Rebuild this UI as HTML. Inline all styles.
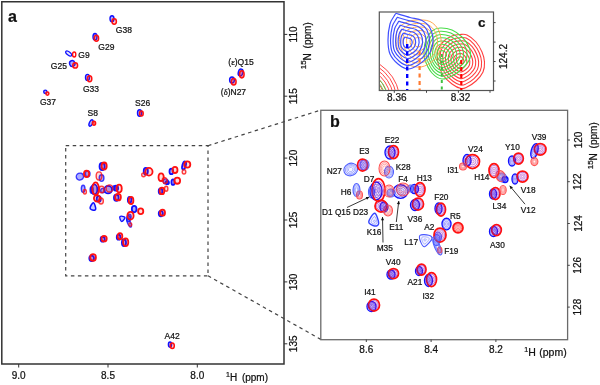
<!DOCTYPE html><html><head><meta charset="utf-8"><style>html,body{margin:0;padding:0;background:#fff;width:600px;height:385px;overflow:hidden}svg{display:block;will-change:transform}text{stroke:#111;stroke-width:0.22px;paint-order:stroke}</style></head><body>
<svg width="600" height="385" viewBox="0 0 600 385">
<rect width="600" height="385" fill="#fff"/>
<path d="M1.8 1.8 H284 V364 H1.8 Z" fill="none" stroke="#333" stroke-width="1.5"/>
<text x="8" y="22.2" font-size="16" font-family='"Liberation Sans", sans-serif' font-weight="bold" fill="#111" text-anchor="start">a</text>
<line x1="284" y1="34.4" x2="287.3" y2="34.4" stroke="#333" stroke-width="1"/>
<text x="297.4" y="34.4" font-size="10" font-family='"Liberation Sans", sans-serif' font-weight="normal" fill="#111" text-anchor="middle" transform="rotate(-90 297.4 34.4)">110</text>
<line x1="284" y1="96.2" x2="287.3" y2="96.2" stroke="#333" stroke-width="1"/>
<text x="297.4" y="96.2" font-size="10" font-family='"Liberation Sans", sans-serif' font-weight="normal" fill="#111" text-anchor="middle" transform="rotate(-90 297.4 96.2)">115</text>
<line x1="284" y1="158.1" x2="287.3" y2="158.1" stroke="#333" stroke-width="1"/>
<text x="297.4" y="158.1" font-size="10" font-family='"Liberation Sans", sans-serif' font-weight="normal" fill="#111" text-anchor="middle" transform="rotate(-90 297.4 158.1)">120</text>
<line x1="284" y1="220.0" x2="287.3" y2="220.0" stroke="#333" stroke-width="1"/>
<text x="297.4" y="220.0" font-size="10" font-family='"Liberation Sans", sans-serif' font-weight="normal" fill="#111" text-anchor="middle" transform="rotate(-90 297.4 220.0)">125</text>
<line x1="284" y1="281.9" x2="287.3" y2="281.9" stroke="#333" stroke-width="1"/>
<text x="297.4" y="281.9" font-size="10" font-family='"Liberation Sans", sans-serif' font-weight="normal" fill="#111" text-anchor="middle" transform="rotate(-90 297.4 281.9)">130</text>
<line x1="284" y1="343.8" x2="287.3" y2="343.8" stroke="#333" stroke-width="1"/>
<text x="297.4" y="343.8" font-size="10" font-family='"Liberation Sans", sans-serif' font-weight="normal" fill="#111" text-anchor="middle" transform="rotate(-90 297.4 343.8)">135</text>
<line x1="18.7" y1="364" x2="18.7" y2="367.5" stroke="#333" stroke-width="1"/>
<text x="18.7" y="378.8" font-size="10" font-family='"Liberation Sans", sans-serif' font-weight="normal" fill="#111" text-anchor="middle">9.0</text>
<line x1="108.0" y1="364" x2="108.0" y2="367.5" stroke="#333" stroke-width="1"/>
<text x="108.0" y="378.8" font-size="10" font-family='"Liberation Sans", sans-serif' font-weight="normal" fill="#111" text-anchor="middle">8.5</text>
<line x1="197.3" y1="364" x2="197.3" y2="367.5" stroke="#333" stroke-width="1"/>
<text x="197.3" y="378.8" font-size="10" font-family='"Liberation Sans", sans-serif' font-weight="normal" fill="#111" text-anchor="middle">8.0</text>
<text x="226" y="380.8" font-size="10" font-family='"Liberation Sans", sans-serif' fill="#111" word-spacing="2"><tspan font-size="7" dy="-4">1</tspan><tspan dy="4">H (ppm)</tspan></text>
<g transform="translate(310.6,69.3) rotate(-90)"><text x="0" y="0" font-size="10" font-family='"Liberation Sans", sans-serif' fill="#111" word-spacing="2"><tspan font-size="8" dy="-4.5">15</tspan><tspan dy="4.5">N (ppm)</tspan></text></g>
<text x="115.8" y="33.3" font-size="8.5" font-family='"Liberation Sans", sans-serif' font-weight="normal" fill="#111" text-anchor="start">G38</text>
<text x="98.3" y="50" font-size="8.5" font-family='"Liberation Sans", sans-serif' font-weight="normal" fill="#111" text-anchor="start">G29</text>
<text x="78.3" y="57.5" font-size="8.5" font-family='"Liberation Sans", sans-serif' font-weight="normal" fill="#111" text-anchor="start">G9</text>
<text x="50.8" y="69.2" font-size="8.5" font-family='"Liberation Sans", sans-serif' font-weight="normal" fill="#111" text-anchor="start">G25</text>
<text x="83" y="91.7" font-size="8.5" font-family='"Liberation Sans", sans-serif' font-weight="normal" fill="#111" text-anchor="start">G33</text>
<text x="40" y="105.3" font-size="8.5" font-family='"Liberation Sans", sans-serif' font-weight="normal" fill="#111" text-anchor="start">G37</text>
<text x="87.5" y="116.2" font-size="8.5" font-family='"Liberation Sans", sans-serif' font-weight="normal" fill="#111" text-anchor="start">S8</text>
<text x="135" y="105.8" font-size="8.5" font-family='"Liberation Sans", sans-serif' font-weight="normal" fill="#111" text-anchor="start">S26</text>
<text x="164.6" y="338.8" font-size="8.5" font-family='"Liberation Sans", sans-serif' font-weight="normal" fill="#111" text-anchor="start">A42</text>
<text x="228.3" y="65" font-size="8.5" font-family='"Liberation Sans", sans-serif' fill="#111">(<tspan font-family='"Liberation Serif", serif'>ε</tspan>)Q15</text>
<text x="220.8" y="95" font-size="8.5" font-family='"Liberation Sans", sans-serif' fill="#111">(<tspan font-family='"Liberation Serif", serif'>δ</tspan>)N27</text>
<ellipse cx="112" cy="18.7" rx="2.0" ry="3.0" fill="#1010ff" fill-opacity="0.35" stroke="#1010ff" stroke-width="1.4"/>
<ellipse cx="114.2" cy="21.5" rx="2.2" ry="2.7" fill="#ff1010" fill-opacity="0.2" stroke="#ff1010" stroke-width="1.5"/>
<ellipse cx="95" cy="36.7" rx="2.0" ry="3.2" fill="#1010ff" fill-opacity="0.35" stroke="#1010ff" stroke-width="1.4"/>
<ellipse cx="96.4" cy="38.3" rx="2.2" ry="3.0" fill="#ff1010" fill-opacity="0.2" stroke="#ff1010" stroke-width="1.5"/>
<ellipse cx="72.3" cy="63.5" rx="2.7" ry="2.9" fill="#1010ff" fill-opacity="0.35" stroke="#1010ff" stroke-width="1.4" transform="rotate(-20 72.3 63.5)"/>
<ellipse cx="75.2" cy="65.4" rx="2.4" ry="2.6" fill="#ff1010" fill-opacity="0.2" stroke="#ff1010" stroke-width="1.5"/>
<ellipse cx="87.5" cy="77.4" rx="2.0" ry="3.0" fill="#1010ff" fill-opacity="0.35" stroke="#1010ff" stroke-width="1.4"/>
<ellipse cx="89.6" cy="78.7" rx="2.2" ry="3.0" fill="#ff1010" fill-opacity="0.2" stroke="#ff1010" stroke-width="1.5"/>
<ellipse cx="45.3" cy="91.8" rx="1.6" ry="1.7" fill="#1010ff" fill-opacity="0.35" stroke="#1010ff" stroke-width="1.4"/>
<ellipse cx="47.4" cy="93.6" rx="1.5" ry="1.6" fill="#ff1010" fill-opacity="0.3" stroke="#ff1010" stroke-width="1.5"/>
<ellipse cx="91.0" cy="123.0" rx="1.6" ry="3.4" fill="#1010ff" fill-opacity="0.35" stroke="#1010ff" stroke-width="1.4" transform="rotate(25 91.0 123.0)"/>
<ellipse cx="94.0" cy="123.3" rx="1.6" ry="2.0" fill="#ff1010" fill-opacity="0.6" stroke="#ff1010" stroke-width="1.5"/>
<ellipse cx="139.6" cy="113.0" rx="2.1" ry="3.2" fill="#1010ff" fill-opacity="0.35" stroke="#1010ff" stroke-width="1.4"/>
<ellipse cx="141.4" cy="113.5" rx="1.8" ry="2.5" fill="#ff1010" fill-opacity="0.3" stroke="#ff1010" stroke-width="1.5"/>
<ellipse cx="240.6" cy="72.5" rx="2.3" ry="3.5" fill="#1010ff" fill-opacity="0.35" stroke="#1010ff" stroke-width="1.4" transform="rotate(15 240.6 72.5)"/>
<ellipse cx="241.8" cy="74.3" rx="2.3" ry="3.6" fill="#ff1010" fill-opacity="0.3" stroke="#ff1010" stroke-width="1.5"/>
<ellipse cx="232" cy="80" rx="2.4" ry="3.0" fill="#1010ff" fill-opacity="0.35" stroke="#1010ff" stroke-width="1.4"/>
<ellipse cx="233.7" cy="81.8" rx="2.4" ry="3.2" fill="#ff1010" fill-opacity="0.3" stroke="#ff1010" stroke-width="1.5"/>
<ellipse cx="170" cy="344.6" rx="1.6" ry="2.6" fill="#1010ff" fill-opacity="0.35" stroke="#1010ff" stroke-width="1.4"/>
<ellipse cx="172.3" cy="345.8" rx="2.0" ry="2.8" fill="#ff1010" fill-opacity="0.2" stroke="#ff1010" stroke-width="1.5"/>
<ellipse cx="68.7" cy="53.5" rx="1.7" ry="3.6" transform="rotate(-52 68.7 53.5)" fill="#1010ff" fill-opacity="0.1" stroke="#1010ff" stroke-width="1.2"/>
<ellipse cx="74.2" cy="54.5" rx="1.6" ry="2.5" fill="none" stroke="#ff1010" stroke-width="1.4"/>
<ellipse cx="102.14" cy="166.40" rx="2.60" ry="3.58" fill="#1010ff" fill-opacity="0.35" stroke="#1010ff" stroke-width="1.8" stroke-opacity="1"/>
<ellipse cx="87.68" cy="173.86" rx="2.34" ry="3.03" fill="#1010ff" fill-opacity="0.35" stroke="#1010ff" stroke-width="1.4" stroke-opacity="0.8"/>
<ellipse cx="79.86" cy="176.55" rx="3.64" ry="3.41" transform="rotate(-25 79.86 176.55)" fill="#1010ff" fill-opacity="0.35" stroke="#1010ff" stroke-width="1.4" stroke-opacity="0.8"/>
<ellipse cx="101.57" cy="178.04" rx="2.34" ry="3.30" fill="#1010ff" fill-opacity="0.35" stroke="#1010ff" stroke-width="1.4" stroke-opacity="0.8"/>
<ellipse cx="83.14" cy="188.79" rx="1.82" ry="3.58" fill="#1010ff" fill-opacity="0.35" stroke="#1010ff" stroke-width="1.4" stroke-opacity="0.8"/>
<ellipse cx="91.65" cy="189.98" rx="1.56" ry="3.30" fill="#1010ff" fill-opacity="0.35" stroke="#1010ff" stroke-width="1.4" stroke-opacity="0.8"/>
<ellipse cx="94.20" cy="189.38" rx="3.12" ry="4.95" fill="#1010ff" fill-opacity="0.35" stroke="#1010ff" stroke-width="1.8" stroke-opacity="1"/>
<ellipse cx="102.71" cy="190.58" rx="2.08" ry="2.20" fill="#1010ff" fill-opacity="0.35" stroke="#1010ff" stroke-width="1.4" stroke-opacity="0.8"/>
<ellipse cx="108.09" cy="189.68" rx="3.90" ry="3.74" fill="#1010ff" fill-opacity="0.35" stroke="#1010ff" stroke-width="1.8" stroke-opacity="1"/>
<ellipse cx="98.74" cy="198.94" rx="2.08" ry="2.75" fill="#1010ff" fill-opacity="0.35" stroke="#1010ff" stroke-width="1.8" stroke-opacity="1"/>
<ellipse cx="116.03" cy="188.19" rx="2.08" ry="2.48" fill="#1010ff" fill-opacity="0.35" stroke="#1010ff" stroke-width="1.8" stroke-opacity="1"/>
<ellipse cx="113.76" cy="187.89" rx="1.56" ry="1.93" fill="#1010ff" fill-opacity="0.35" stroke="#1010ff" stroke-width="1.4" stroke-opacity="0.8"/>
<ellipse cx="116.31" cy="197.74" rx="2.34" ry="3.03" fill="#1010ff" fill-opacity="0.35" stroke="#1010ff" stroke-width="1.8" stroke-opacity="1"/>
<ellipse cx="129.64" cy="199.83" rx="1.82" ry="3.03" fill="#1010ff" fill-opacity="0.35" stroke="#1010ff" stroke-width="1.8" stroke-opacity="1"/>
<ellipse cx="134.17" cy="209.09" rx="2.34" ry="3.19" fill="#1010ff" fill-opacity="0.35" stroke="#1010ff" stroke-width="1.8" stroke-opacity="1"/>
<ellipse cx="129.35" cy="216.85" rx="1.82" ry="2.75" fill="#1010ff" fill-opacity="0.35" stroke="#1010ff" stroke-width="1.4" stroke-opacity="0.8"/>
<ellipse cx="128.50" cy="218.64" rx="1.82" ry="3.03" fill="#1010ff" fill-opacity="0.35" stroke="#1010ff" stroke-width="1.4" stroke-opacity="0.8"/>
<ellipse cx="129.07" cy="222.82" rx="1.50" ry="4.68" transform="rotate(-24 129.07 222.82)" fill="#1010ff" fill-opacity="0.35" stroke="#1010ff" stroke-width="1.4" stroke-opacity="0.8"/>
<ellipse cx="160.82" cy="213.56" rx="2.08" ry="2.75" fill="#1010ff" fill-opacity="0.35" stroke="#1010ff" stroke-width="1.8" stroke-opacity="1"/>
<ellipse cx="145.80" cy="171.18" rx="2.08" ry="3.30" fill="#1010ff" fill-opacity="0.35" stroke="#1010ff" stroke-width="1.8" stroke-opacity="1"/>
<ellipse cx="165.64" cy="181.33" rx="2.34" ry="2.48" fill="#1010ff" fill-opacity="0.35" stroke="#1010ff" stroke-width="1.4" stroke-opacity="0.8"/>
<ellipse cx="167.34" cy="182.52" rx="1.56" ry="1.70" fill="#1010ff" fill-opacity="0.35" stroke="#1010ff" stroke-width="1.8" stroke-opacity="1"/>
<ellipse cx="160.54" cy="191.18" rx="1.82" ry="2.75" fill="#1010ff" fill-opacity="0.35" stroke="#1010ff" stroke-width="1.8" stroke-opacity="1"/>
<ellipse cx="171.31" cy="171.47" rx="1.82" ry="2.75" fill="#1010ff" fill-opacity="0.35" stroke="#1010ff" stroke-width="1.8" stroke-opacity="1"/>
<ellipse cx="173.01" cy="182.22" rx="1.56" ry="2.75" fill="#1010ff" fill-opacity="0.35" stroke="#1010ff" stroke-width="1.8" stroke-opacity="1"/>
<ellipse cx="184.07" cy="165.50" rx="1.72" ry="4.12" transform="rotate(15 184.07 165.50)" fill="#1010ff" fill-opacity="0.35" stroke="#1010ff" stroke-width="1.8" stroke-opacity="1"/>
<ellipse cx="102.71" cy="239.23" rx="2.08" ry="2.48" fill="#1010ff" fill-opacity="0.35" stroke="#1010ff" stroke-width="1.8" stroke-opacity="1"/>
<ellipse cx="118.58" cy="237.14" rx="1.82" ry="2.48" fill="#1010ff" fill-opacity="0.35" stroke="#1010ff" stroke-width="1.8" stroke-opacity="1"/>
<ellipse cx="123.97" cy="242.82" rx="2.08" ry="3.30" fill="#1010ff" fill-opacity="0.35" stroke="#1010ff" stroke-width="1.8" stroke-opacity="1"/>
<ellipse cx="91.65" cy="258.34" rx="2.34" ry="2.75" fill="#1010ff" fill-opacity="0.35" stroke="#1010ff" stroke-width="1.8" stroke-opacity="1"/>
<ellipse cx="104.12" cy="166.10" rx="2.60" ry="3.58" fill="#ff1010" fill-opacity="0.15" stroke="#ff1010" stroke-width="1.8" stroke-opacity="1"/>
<ellipse cx="86.55" cy="173.86" rx="2.60" ry="3.30" fill="#ff1010" fill-opacity="0.15" stroke="#ff1010" stroke-width="1.8" stroke-opacity="1"/>
<ellipse cx="99.02" cy="175.95" rx="2.86" ry="4.12" fill="#ff1010" fill-opacity="0.15" stroke="#ff1010" stroke-width="1.4" stroke-opacity="0.8"/>
<ellipse cx="84.85" cy="191.77" rx="1.56" ry="2.20" fill="#ff1010" fill-opacity="0.15" stroke="#ff1010" stroke-width="1.4" stroke-opacity="0.8"/>
<ellipse cx="95.62" cy="188.79" rx="3.38" ry="6.33" fill="#ff1010" fill-opacity="0.15" stroke="#ff1010" stroke-width="1.8" stroke-opacity="1"/>
<ellipse cx="101.57" cy="189.38" rx="2.60" ry="3.30" fill="#ff1010" fill-opacity="0.15" stroke="#ff1010" stroke-width="1.4" stroke-opacity="0.8"/>
<ellipse cx="109.51" cy="188.49" rx="3.38" ry="3.58" fill="#ff1010" fill-opacity="0.15" stroke="#ff1010" stroke-width="1.4" stroke-opacity="0.8"/>
<ellipse cx="97.04" cy="198.34" rx="3.12" ry="3.30" fill="#ff1010" fill-opacity="0.15" stroke="#ff1010" stroke-width="1.8" stroke-opacity="1"/>
<ellipse cx="101.00" cy="201.03" rx="2.34" ry="3.03" fill="#ff1010" fill-opacity="0.15" stroke="#ff1010" stroke-width="1.4" stroke-opacity="0.8"/>
<ellipse cx="119.15" cy="188.49" rx="2.60" ry="3.85" fill="#ff1010" fill-opacity="0.15" stroke="#ff1010" stroke-width="1.8" stroke-opacity="1"/>
<ellipse cx="118.02" cy="197.15" rx="2.86" ry="3.30" fill="#ff1010" fill-opacity="0.15" stroke="#ff1010" stroke-width="1.8" stroke-opacity="1"/>
<ellipse cx="131.06" cy="200.43" rx="2.34" ry="3.58" fill="#ff1010" fill-opacity="0.15" stroke="#ff1010" stroke-width="1.8" stroke-opacity="1"/>
<ellipse cx="140.69" cy="211.29" rx="2.60" ry="2.86" fill="#ff1010" fill-opacity="0.15" stroke="#ff1010" stroke-width="1.8" stroke-opacity="1"/>
<ellipse cx="130.49" cy="215.65" rx="3.12" ry="3.85" fill="#ff1010" fill-opacity="0.15" stroke="#ff1010" stroke-width="1.8" stroke-opacity="1"/>
<ellipse cx="130.32" cy="224.61" rx="1.50" ry="1.70" fill="#ff1010" fill-opacity="0.15" stroke="#ff1010" stroke-width="1.4" stroke-opacity="0.8"/>
<ellipse cx="162.52" cy="212.67" rx="2.50" ry="3.03" fill="#ff1010" fill-opacity="0.15" stroke="#ff1010" stroke-width="1.8" stroke-opacity="1"/>
<ellipse cx="148.92" cy="171.77" rx="3.64" ry="3.85" fill="#ff1010" fill-opacity="0.15" stroke="#ff1010" stroke-width="1.8" stroke-opacity="1"/>
<ellipse cx="143.53" cy="174.76" rx="1.82" ry="1.93" fill="#ff1010" fill-opacity="0.15" stroke="#ff1010" stroke-width="1.4" stroke-opacity="0.8"/>
<ellipse cx="161.11" cy="177.15" rx="2.60" ry="3.85" fill="#ff1010" fill-opacity="0.15" stroke="#ff1010" stroke-width="1.8" stroke-opacity="1"/>
<ellipse cx="164.79" cy="180.43" rx="2.34" ry="3.03" transform="rotate(-20 164.79 180.43)" fill="#ff1010" fill-opacity="0.15" stroke="#ff1010" stroke-width="1.4" stroke-opacity="0.8"/>
<ellipse cx="161.96" cy="190.88" rx="2.34" ry="3.30" fill="#ff1010" fill-opacity="0.15" stroke="#ff1010" stroke-width="1.8" stroke-opacity="1"/>
<ellipse cx="166.21" cy="188.79" rx="1.66" ry="2.48" fill="#ff1010" fill-opacity="0.15" stroke="#ff1010" stroke-width="1.4" stroke-opacity="0.8"/>
<ellipse cx="175.00" cy="169.98" rx="2.50" ry="3.03" fill="#ff1010" fill-opacity="0.15" stroke="#ff1010" stroke-width="1.8" stroke-opacity="1"/>
<ellipse cx="177.27" cy="180.73" rx="2.86" ry="3.03" fill="#ff1010" fill-opacity="0.15" stroke="#ff1010" stroke-width="1.8" stroke-opacity="1"/>
<ellipse cx="187.30" cy="164.49" rx="3.02" ry="3.19" fill="#ff1010" fill-opacity="0.15" stroke="#ff1010" stroke-width="1.8" stroke-opacity="1"/>
<ellipse cx="184.01" cy="171.83" rx="1.82" ry="2.20" fill="#ff1010" fill-opacity="0.15" stroke="#ff1010" stroke-width="1.4" stroke-opacity="0.8"/>
<ellipse cx="104.12" cy="238.64" rx="2.60" ry="2.75" fill="#ff1010" fill-opacity="0.15" stroke="#ff1010" stroke-width="1.8" stroke-opacity="1"/>
<ellipse cx="120.00" cy="236.25" rx="2.34" ry="3.03" fill="#ff1010" fill-opacity="0.15" stroke="#ff1010" stroke-width="1.8" stroke-opacity="1"/>
<ellipse cx="125.67" cy="242.22" rx="2.60" ry="3.85" fill="#ff1010" fill-opacity="0.15" stroke="#ff1010" stroke-width="1.8" stroke-opacity="1"/>
<ellipse cx="93.07" cy="257.44" rx="2.86" ry="3.30" fill="#ff1010" fill-opacity="0.15" stroke="#ff1010" stroke-width="1.8" stroke-opacity="1"/>
<path d="M93.46 202.70 C94.41 202.83 95.73 207.40 95.73 208.67 C95.73 209.93 94.41 210.41 93.46 210.28 C92.52 210.15 90.06 209.16 90.06 207.89 C90.06 206.63 92.52 202.57 93.46 202.70Z" fill="#1010ff" fill-opacity="0.2" stroke="#1010ff" stroke-width="1.5"/>
<path d="M119.98 216.55 C120.52 216.07 122.71 216.31 123.53 216.55 C124.35 216.79 125.15 217.20 124.88 218.01 C124.60 218.83 122.67 221.21 121.90 221.45 C121.13 221.69 120.58 220.25 120.26 219.43 C119.94 218.61 119.43 217.03 119.98 216.55Z" fill="#1010ff" fill-opacity="0.2" stroke="#1010ff" stroke-width="1.4"/>
<path d="M65.7 145.7 H208 V275.8 H65.7 Z" fill="none" stroke="#444" stroke-width="1.2" stroke-dasharray="3.5 3.5"/>
<line x1="208" y1="145.7" x2="321" y2="110" stroke="#444" stroke-width="1.2" stroke-dasharray="3.5 3.5"/>
<line x1="208" y1="275.8" x2="321" y2="339.5" stroke="#444" stroke-width="1.2" stroke-dasharray="3.5 3.5"/>
<rect x="320.8" y="110.3" width="246.8" height="229.4" fill="#fff" stroke="#6a6a6a" stroke-width="1.3"/>
<text x="330" y="126.8" font-size="16" font-family='"Liberation Sans", sans-serif' font-weight="bold" fill="#111" text-anchor="start">b</text>
<line x1="567.5" y1="140" x2="569.8" y2="140" stroke="#444" stroke-width="1"/>
<text x="581.5" y="140" font-size="10" font-family='"Liberation Sans", sans-serif' font-weight="normal" fill="#111" text-anchor="middle" transform="rotate(-90 581.5 140)">120</text>
<line x1="567.5" y1="181.7" x2="569.8" y2="181.7" stroke="#444" stroke-width="1"/>
<text x="581.5" y="181.7" font-size="10" font-family='"Liberation Sans", sans-serif' font-weight="normal" fill="#111" text-anchor="middle" transform="rotate(-90 581.5 181.7)">122</text>
<line x1="567.5" y1="223.5" x2="569.8" y2="223.5" stroke="#444" stroke-width="1"/>
<text x="581.5" y="223.5" font-size="10" font-family='"Liberation Sans", sans-serif' font-weight="normal" fill="#111" text-anchor="middle" transform="rotate(-90 581.5 223.5)">124</text>
<line x1="567.5" y1="265.3" x2="569.8" y2="265.3" stroke="#444" stroke-width="1"/>
<text x="581.5" y="265.3" font-size="10" font-family='"Liberation Sans", sans-serif' font-weight="normal" fill="#111" text-anchor="middle" transform="rotate(-90 581.5 265.3)">126</text>
<line x1="567.5" y1="307.1" x2="569.8" y2="307.1" stroke="#444" stroke-width="1"/>
<text x="581.5" y="307.1" font-size="10" font-family='"Liberation Sans", sans-serif' font-weight="normal" fill="#111" text-anchor="middle" transform="rotate(-90 581.5 307.1)">128</text>
<line x1="366.3" y1="339.5" x2="366.3" y2="342" stroke="#444" stroke-width="1"/>
<text x="366.3" y="352.5" font-size="10" font-family='"Liberation Sans", sans-serif' font-weight="normal" fill="#111" text-anchor="middle">8.6</text>
<line x1="431.1" y1="339.5" x2="431.1" y2="342" stroke="#444" stroke-width="1"/>
<text x="431.1" y="352.5" font-size="10" font-family='"Liberation Sans", sans-serif' font-weight="normal" fill="#111" text-anchor="middle">8.4</text>
<line x1="495.9" y1="339.5" x2="495.9" y2="342" stroke="#444" stroke-width="1"/>
<text x="495.9" y="352.5" font-size="10" font-family='"Liberation Sans", sans-serif' font-weight="normal" fill="#111" text-anchor="middle">8.2</text>
<text x="524.3" y="355.8" font-size="10.5" font-family='"Liberation Sans", sans-serif' fill="#111" word-spacing="0.5"><tspan font-size="7" dy="-4">1</tspan><tspan dy="4">H (ppm)</tspan></text>
<g transform="translate(597,169.3) rotate(-90)"><text x="0" y="0" font-size="10" font-family='"Liberation Sans", sans-serif' fill="#111" word-spacing="2"><tspan font-size="8" dy="-4.5">15</tspan><tspan dy="4.5">N (ppm)</tspan></text></g>
<ellipse cx="390" cy="152.5" rx="5" ry="6.5" fill="#1010ff" fill-opacity="0.06" stroke="#1010ff" stroke-width="1.35"/>
<ellipse cx="364.5" cy="165" rx="4.5" ry="5.5" fill="#1010ff" fill-opacity="0.04" stroke="#5060ff" stroke-width="1.1"/>
<ellipse cx="350.7" cy="169.5" rx="7" ry="6.2" fill="#1010ff" fill-opacity="0.04" stroke="#5060ff" stroke-width="1.1" transform="rotate(-25 350.7 169.5)"/>
<ellipse cx="389" cy="172" rx="4.5" ry="6" fill="#1010ff" fill-opacity="0.04" stroke="#5060ff" stroke-width="1.1"/>
<ellipse cx="356.5" cy="190" rx="3.5" ry="6.5" fill="#1010ff" fill-opacity="0.04" stroke="#5060ff" stroke-width="1.1"/>
<ellipse cx="371.5" cy="192" rx="3" ry="6" fill="#1010ff" fill-opacity="0.04" stroke="#5060ff" stroke-width="1.1"/>
<ellipse cx="376" cy="191" rx="6" ry="9" fill="#1010ff" fill-opacity="0.06" stroke="#1010ff" stroke-width="1.35"/>
<ellipse cx="391" cy="193" rx="4" ry="4" fill="#1010ff" fill-opacity="0.04" stroke="#5060ff" stroke-width="1.1"/>
<ellipse cx="400.5" cy="191.5" rx="7.5" ry="6.8" fill="#1010ff" fill-opacity="0.06" stroke="#1010ff" stroke-width="1.35"/>
<ellipse cx="384" cy="207" rx="4" ry="5" fill="#1010ff" fill-opacity="0.06" stroke="#1010ff" stroke-width="1.35"/>
<ellipse cx="414.5" cy="189" rx="4" ry="4.5" fill="#1010ff" fill-opacity="0.06" stroke="#1010ff" stroke-width="1.35"/>
<ellipse cx="410.5" cy="188.5" rx="3" ry="3.5" fill="#1010ff" fill-opacity="0.04" stroke="#5060ff" stroke-width="1.1"/>
<ellipse cx="415" cy="205" rx="4.5" ry="5.5" fill="#1010ff" fill-opacity="0.06" stroke="#1010ff" stroke-width="1.35"/>
<ellipse cx="438.5" cy="208.5" rx="3.5" ry="5.5" fill="#1010ff" fill-opacity="0.06" stroke="#1010ff" stroke-width="1.35"/>
<ellipse cx="446.5" cy="224" rx="4.5" ry="5.8" fill="#1010ff" fill-opacity="0.06" stroke="#1010ff" stroke-width="1.35"/>
<ellipse cx="438" cy="237" rx="3.5" ry="5" fill="#1010ff" fill-opacity="0.04" stroke="#5060ff" stroke-width="1.1"/>
<ellipse cx="436.5" cy="240" rx="3.5" ry="5.5" fill="#1010ff" fill-opacity="0.04" stroke="#5060ff" stroke-width="1.1"/>
<ellipse cx="437.5" cy="247" rx="2.8" ry="8.5" fill="#1010ff" fill-opacity="0.04" stroke="#5060ff" stroke-width="1.1" transform="rotate(-24 437.5 247)"/>
<ellipse cx="493.5" cy="231.5" rx="4" ry="5" fill="#1010ff" fill-opacity="0.06" stroke="#1010ff" stroke-width="1.35"/>
<ellipse cx="467" cy="160.5" rx="4" ry="6" fill="#1010ff" fill-opacity="0.06" stroke="#1010ff" stroke-width="1.35"/>
<ellipse cx="502" cy="177.5" rx="4.5" ry="4.5" fill="#1010ff" fill-opacity="0.04" stroke="#5060ff" stroke-width="1.1"/>
<ellipse cx="505" cy="179.5" rx="3" ry="3" fill="#1010ff" fill-opacity="0.06" stroke="#1010ff" stroke-width="1.35"/>
<ellipse cx="493" cy="194" rx="3.5" ry="5" fill="#1010ff" fill-opacity="0.06" stroke="#1010ff" stroke-width="1.35"/>
<ellipse cx="512" cy="161" rx="3.5" ry="5" fill="#1010ff" fill-opacity="0.06" stroke="#1010ff" stroke-width="1.35"/>
<ellipse cx="515" cy="179" rx="3" ry="5" fill="#1010ff" fill-opacity="0.06" stroke="#1010ff" stroke-width="1.35"/>
<ellipse cx="534.5" cy="151" rx="3.3" ry="7.5" fill="#1010ff" fill-opacity="0.06" stroke="#1010ff" stroke-width="1.35" transform="rotate(15 534.5 151)"/>
<ellipse cx="391" cy="274.5" rx="4" ry="4.5" fill="#1010ff" fill-opacity="0.06" stroke="#1010ff" stroke-width="1.35"/>
<ellipse cx="419" cy="271" rx="3.5" ry="4.5" fill="#1010ff" fill-opacity="0.06" stroke="#1010ff" stroke-width="1.35"/>
<ellipse cx="428.5" cy="280.5" rx="4" ry="6" fill="#1010ff" fill-opacity="0.06" stroke="#1010ff" stroke-width="1.35"/>
<ellipse cx="371.5" cy="306.5" rx="4.5" ry="5" fill="#1010ff" fill-opacity="0.06" stroke="#1010ff" stroke-width="1.35"/>
<ellipse cx="393.5" cy="152" rx="5" ry="6.5" fill="#ff1010" fill-opacity="0.06" stroke="#ff1010" stroke-width="1.75"/>
<ellipse cx="362.5" cy="165" rx="5" ry="6" fill="#ff1010" fill-opacity="0.06" stroke="#ff1010" stroke-width="1.75"/>
<ellipse cx="384.5" cy="168.5" rx="5.5" ry="7.5" fill="#ff1010" fill-opacity="0.04" stroke="#ff5050" stroke-width="1.1"/>
<ellipse cx="359.5" cy="195" rx="3" ry="4" fill="#ff1010" fill-opacity="0.04" stroke="#ff5050" stroke-width="1.1"/>
<ellipse cx="378.5" cy="190" rx="6.5" ry="11.5" fill="#ff1010" fill-opacity="0.06" stroke="#ff1010" stroke-width="1.75"/>
<ellipse cx="389" cy="191" rx="5" ry="6" fill="#ff1010" fill-opacity="0.04" stroke="#ff5050" stroke-width="1.1"/>
<ellipse cx="403" cy="189.5" rx="6.5" ry="6.5" fill="#ff1010" fill-opacity="0.04" stroke="#ff5050" stroke-width="1.1"/>
<ellipse cx="381" cy="206" rx="6" ry="6" fill="#ff1010" fill-opacity="0.06" stroke="#ff1010" stroke-width="1.75"/>
<ellipse cx="388" cy="210.5" rx="4.5" ry="5.5" fill="#ff1010" fill-opacity="0.04" stroke="#ff5050" stroke-width="1.1"/>
<ellipse cx="420" cy="189.5" rx="5" ry="7" fill="#ff1010" fill-opacity="0.06" stroke="#ff1010" stroke-width="1.75"/>
<ellipse cx="418" cy="204" rx="5.5" ry="6" fill="#ff1010" fill-opacity="0.06" stroke="#ff1010" stroke-width="1.75"/>
<ellipse cx="441" cy="209.5" rx="4.5" ry="6.5" fill="#ff1010" fill-opacity="0.06" stroke="#ff1010" stroke-width="1.75"/>
<ellipse cx="458" cy="227.7" rx="5" ry="5.2" fill="#ff1010" fill-opacity="0.06" stroke="#ff1010" stroke-width="1.75"/>
<ellipse cx="440" cy="235" rx="6" ry="7" fill="#ff1010" fill-opacity="0.06" stroke="#ff1010" stroke-width="1.75"/>
<ellipse cx="439.7" cy="250" rx="2.2" ry="3" fill="#ff1010" fill-opacity="0.04" stroke="#ff5050" stroke-width="1.1"/>
<ellipse cx="496.5" cy="230" rx="4.8" ry="5.5" fill="#ff1010" fill-opacity="0.06" stroke="#ff1010" stroke-width="1.75"/>
<ellipse cx="472.5" cy="161.5" rx="7" ry="7" fill="#ff1010" fill-opacity="0.06" stroke="#ff1010" stroke-width="1.75"/>
<ellipse cx="463" cy="166.5" rx="3.5" ry="3.5" fill="#ff1010" fill-opacity="0.04" stroke="#ff5050" stroke-width="1.1"/>
<ellipse cx="494" cy="170.5" rx="5" ry="7" fill="#ff1010" fill-opacity="0.06" stroke="#ff1010" stroke-width="1.75"/>
<ellipse cx="500.5" cy="176" rx="4.5" ry="5.5" fill="#ff1010" fill-opacity="0.04" stroke="#ff5050" stroke-width="1.1" transform="rotate(-20 500.5 176)"/>
<ellipse cx="495.5" cy="193.5" rx="4.5" ry="6" fill="#ff1010" fill-opacity="0.06" stroke="#ff1010" stroke-width="1.75"/>
<ellipse cx="503" cy="190" rx="3.2" ry="4.5" fill="#ff1010" fill-opacity="0.04" stroke="#ff5050" stroke-width="1.1"/>
<ellipse cx="518.5" cy="158.5" rx="4.8" ry="5.5" fill="#ff1010" fill-opacity="0.06" stroke="#ff1010" stroke-width="1.75"/>
<ellipse cx="522.5" cy="176.5" rx="5.5" ry="5.5" fill="#ff1010" fill-opacity="0.06" stroke="#ff1010" stroke-width="1.75"/>
<ellipse cx="540.2" cy="149.3" rx="5.8" ry="5.8" fill="#ff1010" fill-opacity="0.06" stroke="#ff1010" stroke-width="1.75"/>
<ellipse cx="534.4" cy="161.6" rx="3.5" ry="4" fill="#ff1010" fill-opacity="0.04" stroke="#ff5050" stroke-width="1.1"/>
<ellipse cx="393.5" cy="273.5" rx="5" ry="5" fill="#ff1010" fill-opacity="0.06" stroke="#ff1010" stroke-width="1.75"/>
<ellipse cx="421.5" cy="269.5" rx="4.5" ry="5.5" fill="#ff1010" fill-opacity="0.06" stroke="#ff1010" stroke-width="1.75"/>
<ellipse cx="431.5" cy="279.5" rx="5" ry="7" fill="#ff1010" fill-opacity="0.06" stroke="#ff1010" stroke-width="1.75"/>
<ellipse cx="374" cy="305" rx="5.5" ry="6" fill="#ff1010" fill-opacity="0.06" stroke="#ff1010" stroke-width="1.75"/>
<ellipse cx="393.5" cy="152" rx="3.70" ry="4.81" fill="none" stroke="#8a1ad0" stroke-width="0.8" stroke-opacity="0.7"/>
<ellipse cx="393.5" cy="152" rx="2.40" ry="3.12" fill="none" stroke="#8a1ad0" stroke-width="0.75" stroke-opacity="0.6"/>
<ellipse cx="393.5" cy="152" rx="1.10" ry="1.43" fill="none" stroke="#8a1ad0" stroke-width="0.75" stroke-opacity="0.55"/>
<ellipse cx="362.5" cy="165" rx="3.70" ry="4.44" fill="none" stroke="#8a1ad0" stroke-width="0.8" stroke-opacity="0.7"/>
<ellipse cx="362.5" cy="165" rx="2.40" ry="2.88" fill="none" stroke="#8a1ad0" stroke-width="0.75" stroke-opacity="0.6"/>
<ellipse cx="362.5" cy="165" rx="1.10" ry="1.32" fill="none" stroke="#8a1ad0" stroke-width="0.75" stroke-opacity="0.55"/>
<ellipse cx="384.5" cy="168.5" rx="4.29" ry="5.85" fill="none" stroke="#ff5050" stroke-width="0.75" stroke-opacity="0.7"/>
<ellipse cx="384.5" cy="168.5" rx="3.08" ry="4.20" fill="none" stroke="#ff5050" stroke-width="0.7" stroke-opacity="0.65"/>
<ellipse cx="384.5" cy="168.5" rx="1.87" ry="2.55" fill="none" stroke="#ff5050" stroke-width="0.7" stroke-opacity="0.55"/>
<ellipse cx="359.5" cy="195" rx="2.34" ry="3.12" fill="none" stroke="#ff5050" stroke-width="0.75" stroke-opacity="0.7"/>
<ellipse cx="359.5" cy="195" rx="1.68" ry="2.24" fill="none" stroke="#ff5050" stroke-width="0.7" stroke-opacity="0.65"/>
<ellipse cx="359.5" cy="195" rx="1.02" ry="1.36" fill="none" stroke="#ff5050" stroke-width="0.7" stroke-opacity="0.55"/>
<ellipse cx="378.5" cy="190" rx="4.81" ry="8.51" fill="none" stroke="#8a1ad0" stroke-width="0.8" stroke-opacity="0.7"/>
<ellipse cx="378.5" cy="190" rx="3.12" ry="5.52" fill="none" stroke="#8a1ad0" stroke-width="0.75" stroke-opacity="0.6"/>
<ellipse cx="378.5" cy="190" rx="1.43" ry="2.53" fill="none" stroke="#8a1ad0" stroke-width="0.75" stroke-opacity="0.55"/>
<ellipse cx="389" cy="191" rx="3.90" ry="4.68" fill="none" stroke="#ff5050" stroke-width="0.75" stroke-opacity="0.7"/>
<ellipse cx="389" cy="191" rx="2.80" ry="3.36" fill="none" stroke="#ff5050" stroke-width="0.7" stroke-opacity="0.65"/>
<ellipse cx="389" cy="191" rx="1.70" ry="2.04" fill="none" stroke="#ff5050" stroke-width="0.7" stroke-opacity="0.55"/>
<ellipse cx="403" cy="189.5" rx="5.07" ry="5.07" fill="none" stroke="#ff5050" stroke-width="0.75" stroke-opacity="0.7"/>
<ellipse cx="403" cy="189.5" rx="3.64" ry="3.64" fill="none" stroke="#ff5050" stroke-width="0.7" stroke-opacity="0.65"/>
<ellipse cx="403" cy="189.5" rx="2.21" ry="2.21" fill="none" stroke="#ff5050" stroke-width="0.7" stroke-opacity="0.55"/>
<ellipse cx="381" cy="206" rx="4.44" ry="4.44" fill="none" stroke="#8a1ad0" stroke-width="0.8" stroke-opacity="0.7"/>
<ellipse cx="381" cy="206" rx="2.88" ry="2.88" fill="none" stroke="#8a1ad0" stroke-width="0.75" stroke-opacity="0.6"/>
<ellipse cx="381" cy="206" rx="1.32" ry="1.32" fill="none" stroke="#8a1ad0" stroke-width="0.75" stroke-opacity="0.55"/>
<ellipse cx="388" cy="210.5" rx="3.51" ry="4.29" fill="none" stroke="#ff5050" stroke-width="0.75" stroke-opacity="0.7"/>
<ellipse cx="388" cy="210.5" rx="2.52" ry="3.08" fill="none" stroke="#ff5050" stroke-width="0.7" stroke-opacity="0.65"/>
<ellipse cx="388" cy="210.5" rx="1.53" ry="1.87" fill="none" stroke="#ff5050" stroke-width="0.7" stroke-opacity="0.55"/>
<ellipse cx="420" cy="189.5" rx="3.70" ry="5.18" fill="none" stroke="#8a1ad0" stroke-width="0.8" stroke-opacity="0.7"/>
<ellipse cx="420" cy="189.5" rx="2.40" ry="3.36" fill="none" stroke="#8a1ad0" stroke-width="0.75" stroke-opacity="0.6"/>
<ellipse cx="420" cy="189.5" rx="1.10" ry="1.54" fill="none" stroke="#8a1ad0" stroke-width="0.75" stroke-opacity="0.55"/>
<ellipse cx="418" cy="204" rx="4.07" ry="4.44" fill="none" stroke="#8a1ad0" stroke-width="0.8" stroke-opacity="0.7"/>
<ellipse cx="418" cy="204" rx="2.64" ry="2.88" fill="none" stroke="#8a1ad0" stroke-width="0.75" stroke-opacity="0.6"/>
<ellipse cx="418" cy="204" rx="1.21" ry="1.32" fill="none" stroke="#8a1ad0" stroke-width="0.75" stroke-opacity="0.55"/>
<ellipse cx="441" cy="209.5" rx="3.33" ry="4.81" fill="none" stroke="#8a1ad0" stroke-width="0.8" stroke-opacity="0.7"/>
<ellipse cx="441" cy="209.5" rx="2.16" ry="3.12" fill="none" stroke="#8a1ad0" stroke-width="0.75" stroke-opacity="0.6"/>
<ellipse cx="441" cy="209.5" rx="0.99" ry="1.43" fill="none" stroke="#8a1ad0" stroke-width="0.75" stroke-opacity="0.55"/>
<ellipse cx="458" cy="227.7" rx="3.70" ry="3.85" fill="none" stroke="#ff1010" stroke-width="0.8" stroke-opacity="0.75"/>
<ellipse cx="458" cy="227.7" rx="2.40" ry="2.50" fill="none" stroke="#ff1010" stroke-width="0.75" stroke-opacity="0.65"/>
<ellipse cx="458" cy="227.7" rx="1.10" ry="1.14" fill="none" stroke="#ff1010" stroke-width="0.75" stroke-opacity="0.6"/>
<ellipse cx="440" cy="235" rx="4.44" ry="5.18" fill="none" stroke="#8a1ad0" stroke-width="0.8" stroke-opacity="0.7"/>
<ellipse cx="440" cy="235" rx="2.88" ry="3.36" fill="none" stroke="#8a1ad0" stroke-width="0.75" stroke-opacity="0.6"/>
<ellipse cx="440" cy="235" rx="1.32" ry="1.54" fill="none" stroke="#8a1ad0" stroke-width="0.75" stroke-opacity="0.55"/>
<ellipse cx="439.7" cy="250" rx="1.72" ry="2.34" fill="none" stroke="#ff5050" stroke-width="0.75" stroke-opacity="0.7"/>
<ellipse cx="439.7" cy="250" rx="1.23" ry="1.68" fill="none" stroke="#ff5050" stroke-width="0.7" stroke-opacity="0.65"/>
<ellipse cx="439.7" cy="250" rx="0.75" ry="1.02" fill="none" stroke="#ff5050" stroke-width="0.7" stroke-opacity="0.55"/>
<ellipse cx="496.5" cy="230" rx="3.55" ry="4.07" fill="none" stroke="#8a1ad0" stroke-width="0.8" stroke-opacity="0.7"/>
<ellipse cx="496.5" cy="230" rx="2.30" ry="2.64" fill="none" stroke="#8a1ad0" stroke-width="0.75" stroke-opacity="0.6"/>
<ellipse cx="496.5" cy="230" rx="1.06" ry="1.21" fill="none" stroke="#8a1ad0" stroke-width="0.75" stroke-opacity="0.55"/>
<ellipse cx="472.5" cy="161.5" rx="5.18" ry="5.18" fill="none" stroke="#8a1ad0" stroke-width="0.8" stroke-opacity="0.7"/>
<ellipse cx="472.5" cy="161.5" rx="3.36" ry="3.36" fill="none" stroke="#8a1ad0" stroke-width="0.75" stroke-opacity="0.6"/>
<ellipse cx="472.5" cy="161.5" rx="1.54" ry="1.54" fill="none" stroke="#8a1ad0" stroke-width="0.75" stroke-opacity="0.55"/>
<ellipse cx="463" cy="166.5" rx="2.73" ry="2.73" fill="none" stroke="#ff5050" stroke-width="0.75" stroke-opacity="0.7"/>
<ellipse cx="463" cy="166.5" rx="1.96" ry="1.96" fill="none" stroke="#ff5050" stroke-width="0.7" stroke-opacity="0.65"/>
<ellipse cx="463" cy="166.5" rx="1.19" ry="1.19" fill="none" stroke="#ff5050" stroke-width="0.7" stroke-opacity="0.55"/>
<ellipse cx="494" cy="170.5" rx="3.70" ry="5.18" fill="none" stroke="#8a1ad0" stroke-width="0.8" stroke-opacity="0.7"/>
<ellipse cx="494" cy="170.5" rx="2.40" ry="3.36" fill="none" stroke="#8a1ad0" stroke-width="0.75" stroke-opacity="0.6"/>
<ellipse cx="494" cy="170.5" rx="1.10" ry="1.54" fill="none" stroke="#8a1ad0" stroke-width="0.75" stroke-opacity="0.55"/>
<ellipse cx="500.5" cy="176" rx="3.51" ry="4.29" fill="none" stroke="#ff5050" stroke-width="0.75" stroke-opacity="0.7" transform="rotate(-20 500.5 176)"/>
<ellipse cx="500.5" cy="176" rx="2.52" ry="3.08" fill="none" stroke="#ff5050" stroke-width="0.7" stroke-opacity="0.65" transform="rotate(-20 500.5 176)"/>
<ellipse cx="500.5" cy="176" rx="1.53" ry="1.87" fill="none" stroke="#ff5050" stroke-width="0.7" stroke-opacity="0.55" transform="rotate(-20 500.5 176)"/>
<ellipse cx="495.5" cy="193.5" rx="3.33" ry="4.44" fill="none" stroke="#8a1ad0" stroke-width="0.8" stroke-opacity="0.7"/>
<ellipse cx="495.5" cy="193.5" rx="2.16" ry="2.88" fill="none" stroke="#8a1ad0" stroke-width="0.75" stroke-opacity="0.6"/>
<ellipse cx="495.5" cy="193.5" rx="0.99" ry="1.32" fill="none" stroke="#8a1ad0" stroke-width="0.75" stroke-opacity="0.55"/>
<ellipse cx="503" cy="190" rx="2.50" ry="3.51" fill="none" stroke="#ff5050" stroke-width="0.75" stroke-opacity="0.7"/>
<ellipse cx="503" cy="190" rx="1.79" ry="2.52" fill="none" stroke="#ff5050" stroke-width="0.7" stroke-opacity="0.65"/>
<ellipse cx="503" cy="190" rx="1.09" ry="1.53" fill="none" stroke="#ff5050" stroke-width="0.7" stroke-opacity="0.55"/>
<ellipse cx="518.5" cy="158.5" rx="3.55" ry="4.07" fill="none" stroke="#8a1ad0" stroke-width="0.8" stroke-opacity="0.7"/>
<ellipse cx="518.5" cy="158.5" rx="2.30" ry="2.64" fill="none" stroke="#8a1ad0" stroke-width="0.75" stroke-opacity="0.6"/>
<ellipse cx="518.5" cy="158.5" rx="1.06" ry="1.21" fill="none" stroke="#8a1ad0" stroke-width="0.75" stroke-opacity="0.55"/>
<ellipse cx="522.5" cy="176.5" rx="4.07" ry="4.07" fill="none" stroke="#8a1ad0" stroke-width="0.8" stroke-opacity="0.7"/>
<ellipse cx="522.5" cy="176.5" rx="2.64" ry="2.64" fill="none" stroke="#8a1ad0" stroke-width="0.75" stroke-opacity="0.6"/>
<ellipse cx="522.5" cy="176.5" rx="1.21" ry="1.21" fill="none" stroke="#8a1ad0" stroke-width="0.75" stroke-opacity="0.55"/>
<ellipse cx="540.2" cy="149.3" rx="4.29" ry="4.29" fill="none" stroke="#8a1ad0" stroke-width="0.8" stroke-opacity="0.7"/>
<ellipse cx="540.2" cy="149.3" rx="2.78" ry="2.78" fill="none" stroke="#8a1ad0" stroke-width="0.75" stroke-opacity="0.6"/>
<ellipse cx="540.2" cy="149.3" rx="1.28" ry="1.28" fill="none" stroke="#8a1ad0" stroke-width="0.75" stroke-opacity="0.55"/>
<ellipse cx="534.4" cy="161.6" rx="2.73" ry="3.12" fill="none" stroke="#ff5050" stroke-width="0.75" stroke-opacity="0.7"/>
<ellipse cx="534.4" cy="161.6" rx="1.96" ry="2.24" fill="none" stroke="#ff5050" stroke-width="0.7" stroke-opacity="0.65"/>
<ellipse cx="534.4" cy="161.6" rx="1.19" ry="1.36" fill="none" stroke="#ff5050" stroke-width="0.7" stroke-opacity="0.55"/>
<ellipse cx="393.5" cy="273.5" rx="3.70" ry="3.70" fill="none" stroke="#8a1ad0" stroke-width="0.8" stroke-opacity="0.7"/>
<ellipse cx="393.5" cy="273.5" rx="2.40" ry="2.40" fill="none" stroke="#8a1ad0" stroke-width="0.75" stroke-opacity="0.6"/>
<ellipse cx="393.5" cy="273.5" rx="1.10" ry="1.10" fill="none" stroke="#8a1ad0" stroke-width="0.75" stroke-opacity="0.55"/>
<ellipse cx="421.5" cy="269.5" rx="3.33" ry="4.07" fill="none" stroke="#8a1ad0" stroke-width="0.8" stroke-opacity="0.7"/>
<ellipse cx="421.5" cy="269.5" rx="2.16" ry="2.64" fill="none" stroke="#8a1ad0" stroke-width="0.75" stroke-opacity="0.6"/>
<ellipse cx="421.5" cy="269.5" rx="0.99" ry="1.21" fill="none" stroke="#8a1ad0" stroke-width="0.75" stroke-opacity="0.55"/>
<ellipse cx="431.5" cy="279.5" rx="3.70" ry="5.18" fill="none" stroke="#8a1ad0" stroke-width="0.8" stroke-opacity="0.7"/>
<ellipse cx="431.5" cy="279.5" rx="2.40" ry="3.36" fill="none" stroke="#8a1ad0" stroke-width="0.75" stroke-opacity="0.6"/>
<ellipse cx="431.5" cy="279.5" rx="1.10" ry="1.54" fill="none" stroke="#8a1ad0" stroke-width="0.75" stroke-opacity="0.55"/>
<ellipse cx="374" cy="305" rx="4.07" ry="4.44" fill="none" stroke="#8a1ad0" stroke-width="0.8" stroke-opacity="0.7"/>
<ellipse cx="374" cy="305" rx="2.64" ry="2.88" fill="none" stroke="#8a1ad0" stroke-width="0.75" stroke-opacity="0.6"/>
<ellipse cx="374" cy="305" rx="1.21" ry="1.32" fill="none" stroke="#8a1ad0" stroke-width="0.75" stroke-opacity="0.55"/>
<ellipse cx="390" cy="152.5" rx="3.70" ry="4.81" fill="none" stroke="#1010ff" stroke-width="0.7" stroke-opacity="0.55"/>
<ellipse cx="390" cy="152.5" rx="2.40" ry="3.12" fill="none" stroke="#1010ff" stroke-width="0.65" stroke-opacity="0.5"/>
<ellipse cx="390" cy="152.5" rx="1.10" ry="1.43" fill="none" stroke="#1010ff" stroke-width="0.65" stroke-opacity="0.45"/>
<ellipse cx="364.5" cy="165" rx="3.51" ry="4.29" fill="none" stroke="#5060ff" stroke-width="0.75" stroke-opacity="0.7"/>
<ellipse cx="364.5" cy="165" rx="2.52" ry="3.08" fill="none" stroke="#5060ff" stroke-width="0.7" stroke-opacity="0.65"/>
<ellipse cx="364.5" cy="165" rx="1.53" ry="1.87" fill="none" stroke="#5060ff" stroke-width="0.7" stroke-opacity="0.55"/>
<ellipse cx="350.7" cy="169.5" rx="5.46" ry="4.84" fill="none" stroke="#5060ff" stroke-width="0.75" stroke-opacity="0.7" transform="rotate(-25 350.7 169.5)"/>
<ellipse cx="350.7" cy="169.5" rx="3.92" ry="3.47" fill="none" stroke="#5060ff" stroke-width="0.7" stroke-opacity="0.65" transform="rotate(-25 350.7 169.5)"/>
<ellipse cx="350.7" cy="169.5" rx="2.38" ry="2.11" fill="none" stroke="#5060ff" stroke-width="0.7" stroke-opacity="0.55" transform="rotate(-25 350.7 169.5)"/>
<ellipse cx="389" cy="172" rx="3.51" ry="4.68" fill="none" stroke="#5060ff" stroke-width="0.75" stroke-opacity="0.7"/>
<ellipse cx="389" cy="172" rx="2.52" ry="3.36" fill="none" stroke="#5060ff" stroke-width="0.7" stroke-opacity="0.65"/>
<ellipse cx="389" cy="172" rx="1.53" ry="2.04" fill="none" stroke="#5060ff" stroke-width="0.7" stroke-opacity="0.55"/>
<ellipse cx="356.5" cy="190" rx="2.73" ry="5.07" fill="none" stroke="#5060ff" stroke-width="0.75" stroke-opacity="0.7"/>
<ellipse cx="356.5" cy="190" rx="1.96" ry="3.64" fill="none" stroke="#5060ff" stroke-width="0.7" stroke-opacity="0.65"/>
<ellipse cx="356.5" cy="190" rx="1.19" ry="2.21" fill="none" stroke="#5060ff" stroke-width="0.7" stroke-opacity="0.55"/>
<ellipse cx="371.5" cy="192" rx="2.34" ry="4.68" fill="none" stroke="#5060ff" stroke-width="0.75" stroke-opacity="0.7"/>
<ellipse cx="371.5" cy="192" rx="1.68" ry="3.36" fill="none" stroke="#5060ff" stroke-width="0.7" stroke-opacity="0.65"/>
<ellipse cx="371.5" cy="192" rx="1.02" ry="2.04" fill="none" stroke="#5060ff" stroke-width="0.7" stroke-opacity="0.55"/>
<ellipse cx="376" cy="191" rx="4.44" ry="6.66" fill="none" stroke="#1010ff" stroke-width="0.7" stroke-opacity="0.55"/>
<ellipse cx="376" cy="191" rx="2.88" ry="4.32" fill="none" stroke="#1010ff" stroke-width="0.65" stroke-opacity="0.5"/>
<ellipse cx="376" cy="191" rx="1.32" ry="1.98" fill="none" stroke="#1010ff" stroke-width="0.65" stroke-opacity="0.45"/>
<ellipse cx="391" cy="193" rx="3.12" ry="3.12" fill="none" stroke="#5060ff" stroke-width="0.75" stroke-opacity="0.7"/>
<ellipse cx="391" cy="193" rx="2.24" ry="2.24" fill="none" stroke="#5060ff" stroke-width="0.7" stroke-opacity="0.65"/>
<ellipse cx="391" cy="193" rx="1.36" ry="1.36" fill="none" stroke="#5060ff" stroke-width="0.7" stroke-opacity="0.55"/>
<ellipse cx="400.5" cy="191.5" rx="5.55" ry="5.03" fill="none" stroke="#1010ff" stroke-width="0.7" stroke-opacity="0.55"/>
<ellipse cx="400.5" cy="191.5" rx="3.60" ry="3.26" fill="none" stroke="#1010ff" stroke-width="0.65" stroke-opacity="0.5"/>
<ellipse cx="400.5" cy="191.5" rx="1.65" ry="1.50" fill="none" stroke="#1010ff" stroke-width="0.65" stroke-opacity="0.45"/>
<ellipse cx="384" cy="207" rx="2.96" ry="3.70" fill="none" stroke="#1010ff" stroke-width="0.7" stroke-opacity="0.55"/>
<ellipse cx="384" cy="207" rx="1.92" ry="2.40" fill="none" stroke="#1010ff" stroke-width="0.65" stroke-opacity="0.5"/>
<ellipse cx="384" cy="207" rx="0.88" ry="1.10" fill="none" stroke="#1010ff" stroke-width="0.65" stroke-opacity="0.45"/>
<ellipse cx="414.5" cy="189" rx="2.96" ry="3.33" fill="none" stroke="#1010ff" stroke-width="0.7" stroke-opacity="0.55"/>
<ellipse cx="414.5" cy="189" rx="1.92" ry="2.16" fill="none" stroke="#1010ff" stroke-width="0.65" stroke-opacity="0.5"/>
<ellipse cx="414.5" cy="189" rx="0.88" ry="0.99" fill="none" stroke="#1010ff" stroke-width="0.65" stroke-opacity="0.45"/>
<ellipse cx="410.5" cy="188.5" rx="2.34" ry="2.73" fill="none" stroke="#5060ff" stroke-width="0.75" stroke-opacity="0.7"/>
<ellipse cx="410.5" cy="188.5" rx="1.68" ry="1.96" fill="none" stroke="#5060ff" stroke-width="0.7" stroke-opacity="0.65"/>
<ellipse cx="410.5" cy="188.5" rx="1.02" ry="1.19" fill="none" stroke="#5060ff" stroke-width="0.7" stroke-opacity="0.55"/>
<ellipse cx="415" cy="205" rx="3.33" ry="4.07" fill="none" stroke="#1010ff" stroke-width="0.7" stroke-opacity="0.55"/>
<ellipse cx="415" cy="205" rx="2.16" ry="2.64" fill="none" stroke="#1010ff" stroke-width="0.65" stroke-opacity="0.5"/>
<ellipse cx="415" cy="205" rx="0.99" ry="1.21" fill="none" stroke="#1010ff" stroke-width="0.65" stroke-opacity="0.45"/>
<ellipse cx="438.5" cy="208.5" rx="2.59" ry="4.07" fill="none" stroke="#1010ff" stroke-width="0.7" stroke-opacity="0.55"/>
<ellipse cx="438.5" cy="208.5" rx="1.68" ry="2.64" fill="none" stroke="#1010ff" stroke-width="0.65" stroke-opacity="0.5"/>
<ellipse cx="438.5" cy="208.5" rx="0.77" ry="1.21" fill="none" stroke="#1010ff" stroke-width="0.65" stroke-opacity="0.45"/>
<ellipse cx="446.5" cy="224" rx="3.33" ry="4.29" fill="none" stroke="#1010ff" stroke-width="0.7" stroke-opacity="0.55"/>
<ellipse cx="446.5" cy="224" rx="2.16" ry="2.78" fill="none" stroke="#1010ff" stroke-width="0.65" stroke-opacity="0.5"/>
<ellipse cx="446.5" cy="224" rx="0.99" ry="1.28" fill="none" stroke="#1010ff" stroke-width="0.65" stroke-opacity="0.45"/>
<ellipse cx="438" cy="237" rx="2.73" ry="3.90" fill="none" stroke="#5060ff" stroke-width="0.75" stroke-opacity="0.7"/>
<ellipse cx="438" cy="237" rx="1.96" ry="2.80" fill="none" stroke="#5060ff" stroke-width="0.7" stroke-opacity="0.65"/>
<ellipse cx="438" cy="237" rx="1.19" ry="1.70" fill="none" stroke="#5060ff" stroke-width="0.7" stroke-opacity="0.55"/>
<ellipse cx="436.5" cy="240" rx="2.73" ry="4.29" fill="none" stroke="#5060ff" stroke-width="0.75" stroke-opacity="0.7"/>
<ellipse cx="436.5" cy="240" rx="1.96" ry="3.08" fill="none" stroke="#5060ff" stroke-width="0.7" stroke-opacity="0.65"/>
<ellipse cx="436.5" cy="240" rx="1.19" ry="1.87" fill="none" stroke="#5060ff" stroke-width="0.7" stroke-opacity="0.55"/>
<ellipse cx="437.5" cy="247" rx="2.18" ry="6.63" fill="none" stroke="#5060ff" stroke-width="0.75" stroke-opacity="0.7" transform="rotate(-24 437.5 247)"/>
<ellipse cx="437.5" cy="247" rx="1.57" ry="4.76" fill="none" stroke="#5060ff" stroke-width="0.7" stroke-opacity="0.65" transform="rotate(-24 437.5 247)"/>
<ellipse cx="437.5" cy="247" rx="0.95" ry="2.89" fill="none" stroke="#5060ff" stroke-width="0.7" stroke-opacity="0.55" transform="rotate(-24 437.5 247)"/>
<ellipse cx="493.5" cy="231.5" rx="2.96" ry="3.70" fill="none" stroke="#1010ff" stroke-width="0.7" stroke-opacity="0.55"/>
<ellipse cx="493.5" cy="231.5" rx="1.92" ry="2.40" fill="none" stroke="#1010ff" stroke-width="0.65" stroke-opacity="0.5"/>
<ellipse cx="493.5" cy="231.5" rx="0.88" ry="1.10" fill="none" stroke="#1010ff" stroke-width="0.65" stroke-opacity="0.45"/>
<ellipse cx="467" cy="160.5" rx="2.96" ry="4.44" fill="none" stroke="#1010ff" stroke-width="0.7" stroke-opacity="0.55"/>
<ellipse cx="467" cy="160.5" rx="1.92" ry="2.88" fill="none" stroke="#1010ff" stroke-width="0.65" stroke-opacity="0.5"/>
<ellipse cx="467" cy="160.5" rx="0.88" ry="1.32" fill="none" stroke="#1010ff" stroke-width="0.65" stroke-opacity="0.45"/>
<ellipse cx="502" cy="177.5" rx="3.51" ry="3.51" fill="none" stroke="#5060ff" stroke-width="0.75" stroke-opacity="0.7"/>
<ellipse cx="502" cy="177.5" rx="2.52" ry="2.52" fill="none" stroke="#5060ff" stroke-width="0.7" stroke-opacity="0.65"/>
<ellipse cx="502" cy="177.5" rx="1.53" ry="1.53" fill="none" stroke="#5060ff" stroke-width="0.7" stroke-opacity="0.55"/>
<ellipse cx="505" cy="179.5" rx="2.22" ry="2.22" fill="none" stroke="#1010ff" stroke-width="0.7" stroke-opacity="0.55"/>
<ellipse cx="505" cy="179.5" rx="1.44" ry="1.44" fill="none" stroke="#1010ff" stroke-width="0.65" stroke-opacity="0.5"/>
<ellipse cx="505" cy="179.5" rx="0.66" ry="0.66" fill="none" stroke="#1010ff" stroke-width="0.65" stroke-opacity="0.45"/>
<ellipse cx="493" cy="194" rx="2.59" ry="3.70" fill="none" stroke="#1010ff" stroke-width="0.7" stroke-opacity="0.55"/>
<ellipse cx="493" cy="194" rx="1.68" ry="2.40" fill="none" stroke="#1010ff" stroke-width="0.65" stroke-opacity="0.5"/>
<ellipse cx="493" cy="194" rx="0.77" ry="1.10" fill="none" stroke="#1010ff" stroke-width="0.65" stroke-opacity="0.45"/>
<ellipse cx="512" cy="161" rx="2.59" ry="3.70" fill="none" stroke="#1010ff" stroke-width="0.7" stroke-opacity="0.55"/>
<ellipse cx="512" cy="161" rx="1.68" ry="2.40" fill="none" stroke="#1010ff" stroke-width="0.65" stroke-opacity="0.5"/>
<ellipse cx="512" cy="161" rx="0.77" ry="1.10" fill="none" stroke="#1010ff" stroke-width="0.65" stroke-opacity="0.45"/>
<ellipse cx="515" cy="179" rx="2.22" ry="3.70" fill="none" stroke="#1010ff" stroke-width="0.7" stroke-opacity="0.55"/>
<ellipse cx="515" cy="179" rx="1.44" ry="2.40" fill="none" stroke="#1010ff" stroke-width="0.65" stroke-opacity="0.5"/>
<ellipse cx="515" cy="179" rx="0.66" ry="1.10" fill="none" stroke="#1010ff" stroke-width="0.65" stroke-opacity="0.45"/>
<ellipse cx="534.5" cy="151" rx="2.44" ry="5.55" fill="none" stroke="#1010ff" stroke-width="0.7" stroke-opacity="0.55" transform="rotate(15 534.5 151)"/>
<ellipse cx="534.5" cy="151" rx="1.58" ry="3.60" fill="none" stroke="#1010ff" stroke-width="0.65" stroke-opacity="0.5" transform="rotate(15 534.5 151)"/>
<ellipse cx="534.5" cy="151" rx="0.73" ry="1.65" fill="none" stroke="#1010ff" stroke-width="0.65" stroke-opacity="0.45" transform="rotate(15 534.5 151)"/>
<ellipse cx="391" cy="274.5" rx="2.96" ry="3.33" fill="none" stroke="#1010ff" stroke-width="0.7" stroke-opacity="0.55"/>
<ellipse cx="391" cy="274.5" rx="1.92" ry="2.16" fill="none" stroke="#1010ff" stroke-width="0.65" stroke-opacity="0.5"/>
<ellipse cx="391" cy="274.5" rx="0.88" ry="0.99" fill="none" stroke="#1010ff" stroke-width="0.65" stroke-opacity="0.45"/>
<ellipse cx="419" cy="271" rx="2.59" ry="3.33" fill="none" stroke="#1010ff" stroke-width="0.7" stroke-opacity="0.55"/>
<ellipse cx="419" cy="271" rx="1.68" ry="2.16" fill="none" stroke="#1010ff" stroke-width="0.65" stroke-opacity="0.5"/>
<ellipse cx="419" cy="271" rx="0.77" ry="0.99" fill="none" stroke="#1010ff" stroke-width="0.65" stroke-opacity="0.45"/>
<ellipse cx="428.5" cy="280.5" rx="2.96" ry="4.44" fill="none" stroke="#1010ff" stroke-width="0.7" stroke-opacity="0.55"/>
<ellipse cx="428.5" cy="280.5" rx="1.92" ry="2.88" fill="none" stroke="#1010ff" stroke-width="0.65" stroke-opacity="0.5"/>
<ellipse cx="428.5" cy="280.5" rx="0.88" ry="1.32" fill="none" stroke="#1010ff" stroke-width="0.65" stroke-opacity="0.45"/>
<ellipse cx="371.5" cy="306.5" rx="3.33" ry="3.70" fill="none" stroke="#1010ff" stroke-width="0.7" stroke-opacity="0.55"/>
<ellipse cx="371.5" cy="306.5" rx="2.16" ry="2.40" fill="none" stroke="#1010ff" stroke-width="0.65" stroke-opacity="0.5"/>
<ellipse cx="371.5" cy="306.5" rx="0.99" ry="1.10" fill="none" stroke="#1010ff" stroke-width="0.65" stroke-opacity="0.45"/>
<path d="M374.70 213.30 C376.37 213.52 378.70 221.18 378.70 223.30 C378.70 225.42 376.37 226.22 374.70 226.00 C373.03 225.78 368.70 224.12 368.70 222.00 C368.70 219.88 373.03 213.08 374.70 213.30Z" fill="#3545ff" fill-opacity="0.06" stroke="#3545ff" stroke-width="1.4" stroke-opacity="1"/>
<path d="M374.62 216.58 C375.62 216.71 377.02 221.31 377.02 222.58 C377.02 223.85 375.62 224.33 374.62 224.20 C373.62 224.07 371.02 223.07 371.02 221.80 C371.02 220.53 373.62 216.45 374.62 216.58Z" fill="#3545ff" fill-opacity="0" stroke="#3545ff" stroke-width="0.65" stroke-opacity="0.6"/>
<path d="M374.54 219.86 C374.87 219.90 375.34 221.44 375.34 221.86 C375.34 222.28 374.87 222.44 374.54 222.40 C374.21 222.36 373.34 222.02 373.34 221.60 C373.34 221.18 374.21 219.82 374.54 219.86Z" fill="#3545ff" fill-opacity="0" stroke="#3545ff" stroke-width="0.65" stroke-opacity="0.6"/>
<path d="M420.00 235.30 C421.33 234.18 426.70 234.73 428.70 235.30 C430.70 235.87 432.67 236.80 432.00 238.70 C431.33 240.60 426.58 246.15 424.70 246.70 C422.82 247.25 421.48 243.90 420.70 242.00 C419.92 240.10 418.67 236.42 420.00 235.30Z" fill="#4a58ff" fill-opacity="0.06" stroke="#4a58ff" stroke-width="1.1" stroke-opacity="1"/>
<path d="M422.00 237.18 C422.80 236.51 426.02 236.84 427.22 237.18 C428.42 237.52 429.60 238.08 429.20 239.22 C428.80 240.36 425.95 243.69 424.82 244.02 C423.69 244.35 422.89 242.34 422.42 241.20 C421.95 240.06 421.20 237.85 422.00 237.18Z" fill="#4a58ff" fill-opacity="0" stroke="#4a58ff" stroke-width="0.65" stroke-opacity="0.6"/>
<path d="M424.00 239.06 C424.27 238.84 425.34 238.95 425.74 239.06 C426.14 239.17 426.53 239.36 426.40 239.74 C426.27 240.12 425.32 241.23 424.94 241.34 C424.56 241.45 424.30 240.78 424.14 240.40 C423.98 240.02 423.73 239.28 424.00 239.06Z" fill="#4a58ff" fill-opacity="0" stroke="#4a58ff" stroke-width="0.65" stroke-opacity="0.6"/>
<path d="M431 238 L436 236.5 M430.5 240.5 L436 239" stroke="#5a68ff" stroke-width="0.8" fill="none"/>
<text x="384.7" y="142.6" font-size="8.3" font-family='"Liberation Sans", sans-serif' font-weight="normal" fill="#111" text-anchor="start">E22</text>
<text x="359.2" y="154.3" font-size="8.3" font-family='"Liberation Sans", sans-serif' font-weight="normal" fill="#111" text-anchor="start">E3</text>
<text x="326.7" y="174.3" font-size="8.3" font-family='"Liberation Sans", sans-serif' font-weight="normal" fill="#111" text-anchor="start">N27</text>
<text x="395.8" y="169.8" font-size="8.3" font-family='"Liberation Sans", sans-serif' font-weight="normal" fill="#111" text-anchor="start">K28</text>
<text x="363.7" y="181.8" font-size="8.3" font-family='"Liberation Sans", sans-serif' font-weight="normal" fill="#111" text-anchor="start">D7</text>
<text x="340.8" y="195.2" font-size="8.3" font-family='"Liberation Sans", sans-serif' font-weight="normal" fill="#111" text-anchor="start">H6</text>
<text x="322" y="215.2" font-size="8.3" font-family='"Liberation Sans", sans-serif' font-weight="normal" fill="#111" text-anchor="start">D1 Q15 D23</text>
<text x="398.3" y="181.8" font-size="8.3" font-family='"Liberation Sans", sans-serif' font-weight="normal" fill="#111" text-anchor="start">F4</text>
<text x="389.2" y="230.4" font-size="8.3" font-family='"Liberation Sans", sans-serif' font-weight="normal" fill="#111" text-anchor="start">E11</text>
<text x="407.5" y="221.8" font-size="8.3" font-family='"Liberation Sans", sans-serif' font-weight="normal" fill="#111" text-anchor="start">V36</text>
<text x="416.7" y="181" font-size="8.3" font-family='"Liberation Sans", sans-serif' font-weight="normal" fill="#111" text-anchor="start">H13</text>
<text x="447.2" y="173" font-size="8.3" font-family='"Liberation Sans", sans-serif' font-weight="normal" fill="#111" text-anchor="start">I31</text>
<text x="468" y="151.8" font-size="8.3" font-family='"Liberation Sans", sans-serif' font-weight="normal" fill="#111" text-anchor="start">V24</text>
<text x="474.2" y="180.2" font-size="8.3" font-family='"Liberation Sans", sans-serif' font-weight="normal" fill="#111" text-anchor="start">H14</text>
<text x="505" y="149.8" font-size="8.3" font-family='"Liberation Sans", sans-serif' font-weight="normal" fill="#111" text-anchor="start">Y10</text>
<text x="531.7" y="140.4" font-size="8.3" font-family='"Liberation Sans", sans-serif' font-weight="normal" fill="#111" text-anchor="start">V39</text>
<text x="520.8" y="192.6" font-size="8.3" font-family='"Liberation Sans", sans-serif' font-weight="normal" fill="#111" text-anchor="start">V18</text>
<text x="492.5" y="209.3" font-size="8.3" font-family='"Liberation Sans", sans-serif' font-weight="normal" fill="#111" text-anchor="start">L34</text>
<text x="520.8" y="212.6" font-size="8.3" font-family='"Liberation Sans", sans-serif' font-weight="normal" fill="#111" text-anchor="start">V12</text>
<text x="434.2" y="200.2" font-size="8.3" font-family='"Liberation Sans", sans-serif' font-weight="normal" fill="#111" text-anchor="start">F20</text>
<text x="450" y="219.3" font-size="8.3" font-family='"Liberation Sans", sans-serif' font-weight="normal" fill="#111" text-anchor="start">R5</text>
<text x="424.2" y="229.8" font-size="8.3" font-family='"Liberation Sans", sans-serif' font-weight="normal" fill="#111" text-anchor="start">A2</text>
<text x="404.2" y="245.1" font-size="8.3" font-family='"Liberation Sans", sans-serif' font-weight="normal" fill="#111" text-anchor="start">L17</text>
<text x="444.2" y="254.3" font-size="8.3" font-family='"Liberation Sans", sans-serif' font-weight="normal" fill="#111" text-anchor="start">F19</text>
<text x="490" y="248.1" font-size="8.3" font-family='"Liberation Sans", sans-serif' font-weight="normal" fill="#111" text-anchor="start">A30</text>
<text x="366.7" y="235.1" font-size="8.3" font-family='"Liberation Sans", sans-serif' font-weight="normal" fill="#111" text-anchor="start">K16</text>
<text x="376.7" y="250.9" font-size="8.3" font-family='"Liberation Sans", sans-serif' font-weight="normal" fill="#111" text-anchor="start">M35</text>
<text x="385.8" y="265.1" font-size="8.3" font-family='"Liberation Sans", sans-serif' font-weight="normal" fill="#111" text-anchor="start">V40</text>
<text x="407.5" y="285.1" font-size="8.3" font-family='"Liberation Sans", sans-serif' font-weight="normal" fill="#111" text-anchor="start">A21</text>
<text x="422.5" y="298.8" font-size="8.3" font-family='"Liberation Sans", sans-serif' font-weight="normal" fill="#111" text-anchor="start">I32</text>
<text x="364.2" y="295.4" font-size="8.3" font-family='"Liberation Sans", sans-serif' font-weight="normal" fill="#111" text-anchor="start">I41</text>
<line x1="347" y1="207.5" x2="369.3" y2="197" stroke="#222" stroke-width="0.9"/>
<path d="M369.30 197.00 L367.09 199.81 L365.72 196.92 Z" fill="#111"/>
<line x1="396.3" y1="222" x2="398.8" y2="201" stroke="#222" stroke-width="0.9"/>
<path d="M398.80 201.00 L400.01 204.37 L396.83 203.99 Z" fill="#111"/>
<line x1="383" y1="242.5" x2="382.5" y2="217" stroke="#222" stroke-width="0.9"/>
<path d="M382.50 217.00 L384.16 220.17 L380.96 220.23 Z" fill="#111"/>
<line x1="525" y1="204.2" x2="509.7" y2="185.8" stroke="#222" stroke-width="0.9"/>
<path d="M509.70 185.80 L512.98 187.24 L510.52 189.28 Z" fill="#111"/>
<rect x="379.3" y="12" width="114.2" height="78.5" fill="#fff" stroke="#555" stroke-width="1.2"/>
<clipPath id="cc"><rect x="379.9" y="12.6" width="113" height="77.3"/></clipPath>
<g clip-path="url(#cc)">
<circle cx="355" cy="102" r="30.0" fill="none" stroke="#ff4848" stroke-width="1.0"/>
<circle cx="355" cy="102" r="33.0" fill="none" stroke="#ff4848" stroke-width="1.0"/>
<circle cx="355" cy="102" r="36.0" fill="none" stroke="#ff4848" stroke-width="1.0"/>
<circle cx="355" cy="102" r="39.0" fill="none" stroke="#ff4848" stroke-width="1.0"/>
<circle cx="355" cy="102" r="42.0" fill="none" stroke="#ff4848" stroke-width="1.0"/>
<circle cx="355" cy="102" r="45.0" fill="none" stroke="#ff4848" stroke-width="1.0"/>
<circle cx="362" cy="98" r="20.0" fill="none" stroke="#50dc50" stroke-width="0.9"/>
<circle cx="362" cy="98" r="22.6" fill="none" stroke="#50dc50" stroke-width="0.9"/>
<circle cx="362" cy="98" r="25.2" fill="none" stroke="#50dc50" stroke-width="0.9"/>
<path d="M438.00 50.00 C439.00 46.33 441.67 43.33 444.00 41.00 C446.33 38.67 449.33 37.08 452.00 36.00 C454.67 34.92 457.50 34.67 460.00 34.50 C462.50 34.33 464.33 33.75 467.00 35.00 C469.67 36.25 473.50 39.17 476.00 42.00 C478.50 44.83 480.58 48.67 482.00 52.00 C483.42 55.33 484.33 58.67 484.50 62.00 C484.67 65.33 484.42 68.83 483.00 72.00 C481.58 75.17 478.67 78.50 476.00 81.00 C473.33 83.50 469.50 85.75 467.00 87.00 C464.50 88.25 463.50 89.00 461.00 88.50 C458.50 88.00 455.00 86.25 452.00 84.00 C449.00 81.75 445.33 78.50 443.00 75.00 C440.67 71.50 438.83 67.17 438.00 63.00 C437.17 58.83 437.00 53.67 438.00 50.00Z" fill="none" stroke="#ff4040" stroke-width="1.1"/>
<path d="M440.64 51.32 C441.52 48.09 443.87 45.45 445.92 43.40 C447.97 41.35 450.61 39.95 452.96 39.00 C455.31 38.05 457.80 37.83 460.00 37.68 C462.20 37.53 463.81 37.02 466.16 38.12 C468.51 39.22 471.88 41.79 474.08 44.28 C476.28 46.77 478.11 50.15 479.36 53.08 C480.61 56.01 481.41 58.95 481.56 61.88 C481.71 64.81 481.49 67.89 480.24 70.68 C478.99 73.47 476.43 76.40 474.08 78.60 C471.73 80.80 468.36 82.78 466.16 83.88 C463.96 84.98 463.08 85.64 460.88 85.20 C458.68 84.76 455.60 83.22 452.96 81.24 C450.32 79.26 447.09 76.40 445.04 73.32 C442.99 70.24 441.37 66.43 440.64 62.76 C439.91 59.09 439.76 54.55 440.64 51.32Z" fill="none" stroke="#ff4040" stroke-width="1.1"/>
<path d="M443.28 52.64 C444.04 49.85 446.07 47.57 447.84 45.80 C449.61 44.03 451.89 42.82 453.92 42.00 C455.95 41.18 458.10 40.99 460.00 40.86 C461.90 40.73 463.29 40.29 465.32 41.24 C467.35 42.19 470.26 44.41 472.16 46.56 C474.06 48.71 475.64 51.63 476.72 54.16 C477.80 56.69 478.49 59.23 478.62 61.76 C478.75 64.29 478.56 66.95 477.48 69.36 C476.40 71.77 474.19 74.30 472.16 76.20 C470.13 78.10 467.22 79.81 465.32 80.76 C463.42 81.71 462.66 82.28 460.76 81.90 C458.86 81.52 456.20 80.19 453.92 78.48 C451.64 76.77 448.85 74.30 447.08 71.64 C445.31 68.98 443.91 65.69 443.28 62.52 C442.65 59.35 442.52 55.43 443.28 52.64Z" fill="none" stroke="#ff4040" stroke-width="1.1"/>
<path d="M445.92 53.96 C446.56 51.61 448.27 49.69 449.76 48.20 C451.25 46.71 453.17 45.69 454.88 45.00 C456.59 44.31 458.40 44.15 460.00 44.04 C461.60 43.93 462.77 43.56 464.48 44.36 C466.19 45.16 468.64 47.03 470.24 48.84 C471.84 50.65 473.17 53.11 474.08 55.24 C474.99 57.37 475.57 59.51 475.68 61.64 C475.79 63.77 475.63 66.01 474.72 68.04 C473.81 70.07 471.95 72.20 470.24 73.80 C468.53 75.40 466.08 76.84 464.48 77.64 C462.88 78.44 462.24 78.92 460.64 78.60 C459.04 78.28 456.80 77.16 454.88 75.72 C452.96 74.28 450.61 72.20 449.12 69.96 C447.63 67.72 446.45 64.95 445.92 62.28 C445.39 59.61 445.28 56.31 445.92 53.96Z" fill="none" stroke="#ff4040" stroke-width="1.1"/>
<path d="M448.56 55.28 C449.08 53.37 450.47 51.81 451.68 50.60 C452.89 49.39 454.45 48.56 455.84 48.00 C457.23 47.44 458.70 47.31 460.00 47.22 C461.30 47.13 462.25 46.83 463.64 47.48 C465.03 48.13 467.02 49.65 468.32 51.12 C469.62 52.59 470.70 54.59 471.44 56.32 C472.18 58.05 472.65 59.79 472.74 61.52 C472.83 63.25 472.70 65.07 471.96 66.72 C471.22 68.37 469.71 70.10 468.32 71.40 C466.93 72.70 464.94 73.87 463.64 74.52 C462.34 75.17 461.82 75.56 460.52 75.30 C459.22 75.04 457.40 74.13 455.84 72.96 C454.28 71.79 452.37 70.10 451.16 68.28 C449.95 66.46 448.99 64.21 448.56 62.04 C448.13 59.87 448.04 57.19 448.56 55.28Z" fill="none" stroke="#ff4040" stroke-width="1.1"/>
<path d="M451.20 56.60 C451.60 55.13 452.67 53.93 453.60 53.00 C454.53 52.07 455.73 51.43 456.80 51.00 C457.87 50.57 459.00 50.47 460.00 50.40 C461.00 50.33 461.73 50.10 462.80 50.60 C463.87 51.10 465.40 52.27 466.40 53.40 C467.40 54.53 468.23 56.07 468.80 57.40 C469.37 58.73 469.73 60.07 469.80 61.40 C469.87 62.73 469.77 64.13 469.20 65.40 C468.63 66.67 467.47 68.00 466.40 69.00 C465.33 70.00 463.80 70.90 462.80 71.40 C461.80 71.90 461.40 72.20 460.40 72.00 C459.40 71.80 458.00 71.10 456.80 70.20 C455.60 69.30 454.13 68.00 453.20 66.60 C452.27 65.20 451.53 63.47 451.20 61.80 C450.87 60.13 450.80 58.07 451.20 56.60Z" fill="none" stroke="#ff4040" stroke-width="1.1"/>
<path d="M453.84 57.92 C454.12 56.89 454.87 56.05 455.52 55.40 C456.17 54.75 457.01 54.30 457.76 54.00 C458.51 53.70 459.30 53.63 460.00 53.58 C460.70 53.53 461.21 53.37 461.96 53.72 C462.71 54.07 463.78 54.89 464.48 55.68 C465.18 56.47 465.76 57.55 466.16 58.48 C466.56 59.41 466.81 60.35 466.86 61.28 C466.91 62.21 466.84 63.19 466.44 64.08 C466.04 64.97 465.23 65.90 464.48 66.60 C463.73 67.30 462.66 67.93 461.96 68.28 C461.26 68.63 460.98 68.84 460.28 68.70 C459.58 68.56 458.60 68.07 457.76 67.44 C456.92 66.81 455.89 65.90 455.24 64.92 C454.59 63.94 454.07 62.73 453.84 61.56 C453.61 60.39 453.56 58.95 453.84 57.92Z" fill="none" stroke="#ff4040" stroke-width="1.1"/>
<path d="M456.48 59.24 C456.64 58.65 457.07 58.17 457.44 57.80 C457.81 57.43 458.29 57.17 458.72 57.00 C459.15 56.83 459.60 56.79 460.00 56.76 C460.40 56.73 460.69 56.64 461.12 56.84 C461.55 57.04 462.16 57.51 462.56 57.96 C462.96 58.41 463.29 59.03 463.52 59.56 C463.75 60.09 463.89 60.63 463.92 61.16 C463.95 61.69 463.91 62.25 463.68 62.76 C463.45 63.27 462.99 63.80 462.56 64.20 C462.13 64.60 461.52 64.96 461.12 65.16 C460.72 65.36 460.56 65.48 460.16 65.40 C459.76 65.32 459.20 65.04 458.72 64.68 C458.24 64.32 457.65 63.80 457.28 63.24 C456.91 62.68 456.61 61.99 456.48 61.32 C456.35 60.65 456.32 59.83 456.48 59.24Z" fill="none" stroke="#ff4040" stroke-width="1.1"/>
<path d="M426.00 40.00 C427.33 36.83 429.67 33.00 432.00 31.00 C434.33 29.00 436.67 28.17 440.00 28.00 C443.33 27.83 448.33 28.50 452.00 30.00 C455.67 31.50 459.17 34.17 462.00 37.00 C464.83 39.83 467.67 43.50 469.00 47.00 C470.33 50.50 471.00 54.50 470.00 58.00 C469.00 61.50 466.00 65.00 463.00 68.00 C460.00 71.00 455.50 74.17 452.00 76.00 C448.50 77.83 445.33 79.50 442.00 79.00 C438.67 78.50 434.83 76.17 432.00 73.00 C429.17 69.83 426.33 63.83 425.00 60.00 C423.67 56.17 423.83 53.33 424.00 50.00 C424.17 46.67 424.67 43.17 426.00 40.00Z" fill="none" stroke="#48dc48" stroke-width="1.1"/>
<path d="M427.92 41.80 C429.09 39.01 431.15 35.64 433.20 33.88 C435.25 32.12 437.31 31.39 440.24 31.24 C443.17 31.09 447.57 31.68 450.80 33.00 C454.03 34.32 457.11 36.67 459.60 39.16 C462.09 41.65 464.59 44.88 465.76 47.96 C466.93 51.04 467.52 54.56 466.64 57.64 C465.76 60.72 463.12 63.80 460.48 66.44 C457.84 69.08 453.88 71.87 450.80 73.48 C447.72 75.09 444.93 76.56 442.00 76.12 C439.07 75.68 435.69 73.63 433.20 70.84 C430.71 68.05 428.21 62.77 427.04 59.40 C425.87 56.03 426.01 53.53 426.16 50.60 C426.31 47.67 426.75 44.59 427.92 41.80Z" fill="none" stroke="#48dc48" stroke-width="1.1"/>
<path d="M429.84 43.60 C430.85 41.19 432.63 38.28 434.40 36.76 C436.17 35.24 437.95 34.61 440.48 34.48 C443.01 34.35 446.81 34.86 449.60 36.00 C452.39 37.14 455.05 39.17 457.20 41.32 C459.35 43.47 461.51 46.26 462.52 48.92 C463.53 51.58 464.04 54.62 463.28 57.28 C462.52 59.94 460.24 62.60 457.96 64.88 C455.68 67.16 452.26 69.57 449.60 70.96 C446.94 72.35 444.53 73.62 442.00 73.24 C439.47 72.86 436.55 71.09 434.40 68.68 C432.25 66.27 430.09 61.71 429.08 58.80 C428.07 55.89 428.19 53.73 428.32 51.20 C428.45 48.67 428.83 46.01 429.84 43.60Z" fill="none" stroke="#48dc48" stroke-width="1.1"/>
<path d="M431.76 45.40 C432.61 43.37 434.11 40.92 435.60 39.64 C437.09 38.36 438.59 37.83 440.72 37.72 C442.85 37.61 446.05 38.04 448.40 39.00 C450.75 39.96 452.99 41.67 454.80 43.48 C456.61 45.29 458.43 47.64 459.28 49.88 C460.13 52.12 460.56 54.68 459.92 56.92 C459.28 59.16 457.36 61.40 455.44 63.32 C453.52 65.24 450.64 67.27 448.40 68.44 C446.16 69.61 444.13 70.68 442.00 70.36 C439.87 70.04 437.41 68.55 435.60 66.52 C433.79 64.49 431.97 60.65 431.12 58.20 C430.27 55.75 430.37 53.93 430.48 51.80 C430.59 49.67 430.91 47.43 431.76 45.40Z" fill="none" stroke="#48dc48" stroke-width="1.1"/>
<path d="M433.68 47.20 C434.37 45.55 435.59 43.56 436.80 42.52 C438.01 41.48 439.23 41.05 440.96 40.96 C442.69 40.87 445.29 41.22 447.20 42.00 C449.11 42.78 450.93 44.17 452.40 45.64 C453.87 47.11 455.35 49.02 456.04 50.84 C456.73 52.66 457.08 54.74 456.56 56.56 C456.04 58.38 454.48 60.20 452.92 61.76 C451.36 63.32 449.02 64.97 447.20 65.92 C445.38 66.87 443.73 67.74 442.00 67.48 C440.27 67.22 438.27 66.01 436.80 64.36 C435.33 62.71 433.85 59.59 433.16 57.60 C432.47 55.61 432.55 54.13 432.64 52.40 C432.73 50.67 432.99 48.85 433.68 47.20Z" fill="none" stroke="#48dc48" stroke-width="1.1"/>
<path d="M435.60 49.00 C436.13 47.73 437.07 46.20 438.00 45.40 C438.93 44.60 439.87 44.27 441.20 44.20 C442.53 44.13 444.53 44.40 446.00 45.00 C447.47 45.60 448.87 46.67 450.00 47.80 C451.13 48.93 452.27 50.40 452.80 51.80 C453.33 53.20 453.60 54.80 453.20 56.20 C452.80 57.60 451.60 59.00 450.40 60.20 C449.20 61.40 447.40 62.67 446.00 63.40 C444.60 64.13 443.33 64.80 442.00 64.60 C440.67 64.40 439.13 63.47 438.00 62.20 C436.87 60.93 435.73 58.53 435.20 57.00 C434.67 55.47 434.73 54.33 434.80 53.00 C434.87 51.67 435.07 50.27 435.60 49.00Z" fill="none" stroke="#48dc48" stroke-width="1.1"/>
<path d="M437.52 50.80 C437.89 49.91 438.55 48.84 439.20 48.28 C439.85 47.72 440.51 47.49 441.44 47.44 C442.37 47.39 443.77 47.58 444.80 48.00 C445.83 48.42 446.81 49.17 447.60 49.96 C448.39 50.75 449.19 51.78 449.56 52.76 C449.93 53.74 450.12 54.86 449.84 55.84 C449.56 56.82 448.72 57.80 447.88 58.64 C447.04 59.48 445.78 60.37 444.80 60.88 C443.82 61.39 442.93 61.86 442.00 61.72 C441.07 61.58 439.99 60.93 439.20 60.04 C438.41 59.15 437.61 57.47 437.24 56.40 C436.87 55.33 436.91 54.53 436.96 53.60 C437.01 52.67 437.15 51.69 437.52 50.80Z" fill="none" stroke="#48dc48" stroke-width="1.1"/>
<path d="M439.44 52.60 C439.65 52.09 440.03 51.48 440.40 51.16 C440.77 50.84 441.15 50.71 441.68 50.68 C442.21 50.65 443.01 50.76 443.60 51.00 C444.19 51.24 444.75 51.67 445.20 52.12 C445.65 52.57 446.11 53.16 446.32 53.72 C446.53 54.28 446.64 54.92 446.48 55.48 C446.32 56.04 445.84 56.60 445.36 57.08 C444.88 57.56 444.16 58.07 443.60 58.36 C443.04 58.65 442.53 58.92 442.00 58.84 C441.47 58.76 440.85 58.39 440.40 57.88 C439.95 57.37 439.49 56.41 439.28 55.80 C439.07 55.19 439.09 54.73 439.12 54.20 C439.15 53.67 439.23 53.11 439.44 52.60Z" fill="none" stroke="#48dc48" stroke-width="1.1"/>
<path d="M398.00 29.00 C399.50 26.33 402.00 24.50 405.00 23.00 C408.00 21.50 411.83 20.25 416.00 20.00 C420.17 19.75 426.17 19.67 430.00 21.50 C433.83 23.33 437.17 26.92 439.00 31.00 C440.83 35.08 441.67 41.33 441.00 46.00 C440.33 50.67 438.33 55.50 435.00 59.00 C431.67 62.50 425.83 66.33 421.00 67.00 C416.17 67.67 409.83 65.83 406.00 63.00 C402.17 60.17 399.67 54.00 398.00 50.00 C396.33 46.00 396.00 42.50 396.00 39.00 C396.00 35.50 396.50 31.67 398.00 29.00Z" fill="none" stroke="#ffa850" stroke-width="1.0"/>
<path d="M401.20 31.08 C402.46 28.84 404.56 27.30 407.08 26.04 C409.60 24.78 412.82 23.73 416.32 23.52 C419.82 23.31 424.86 23.24 428.08 24.78 C431.30 26.32 434.10 29.33 435.64 32.76 C437.18 36.19 437.88 41.44 437.32 45.36 C436.76 49.28 435.08 53.34 432.28 56.28 C429.48 59.22 424.58 62.44 420.52 63.00 C416.46 63.56 411.14 62.02 407.92 59.64 C404.70 57.26 402.60 52.08 401.20 48.72 C399.80 45.36 399.52 42.42 399.52 39.48 C399.52 36.54 399.94 33.32 401.20 31.08Z" fill="none" stroke="#ffa850" stroke-width="1.0"/>
<path d="M404.40 33.16 C405.42 31.35 407.12 30.10 409.16 29.08 C411.20 28.06 413.81 27.21 416.64 27.04 C419.47 26.87 423.55 26.81 426.16 28.06 C428.77 29.31 431.03 31.74 432.28 34.52 C433.53 37.30 434.09 41.55 433.64 44.72 C433.19 47.89 431.83 51.18 429.56 53.56 C427.29 55.94 423.33 58.55 420.04 59.00 C416.75 59.45 412.45 58.21 409.84 56.28 C407.23 54.35 405.53 50.16 404.40 47.44 C403.27 44.72 403.04 42.34 403.04 39.96 C403.04 37.58 403.38 34.97 404.40 33.16Z" fill="none" stroke="#ffa850" stroke-width="1.0"/>
<path d="M407.60 35.24 C408.38 33.85 409.68 32.90 411.24 32.12 C412.80 31.34 414.79 30.69 416.96 30.56 C419.13 30.43 422.25 30.39 424.24 31.34 C426.23 32.29 427.97 34.16 428.92 36.28 C429.87 38.40 430.31 41.65 429.96 44.08 C429.61 46.51 428.57 49.02 426.84 50.84 C425.11 52.66 422.07 54.65 419.56 55.00 C417.05 55.35 413.75 54.39 411.76 52.92 C409.77 51.45 408.47 48.24 407.60 46.16 C406.73 44.08 406.56 42.26 406.56 40.44 C406.56 38.62 406.82 36.63 407.60 35.24Z" fill="none" stroke="#ffa850" stroke-width="1.0"/>
<path d="M410.80 37.32 C411.34 36.36 412.24 35.70 413.32 35.16 C414.40 34.62 415.78 34.17 417.28 34.08 C418.78 33.99 420.94 33.96 422.32 34.62 C423.70 35.28 424.90 36.57 425.56 38.04 C426.22 39.51 426.52 41.76 426.28 43.44 C426.04 45.12 425.32 46.86 424.12 48.12 C422.92 49.38 420.82 50.76 419.08 51.00 C417.34 51.24 415.06 50.58 413.68 49.56 C412.30 48.54 411.40 46.32 410.80 44.88 C410.20 43.44 410.08 42.18 410.08 40.92 C410.08 39.66 410.26 38.28 410.80 37.32Z" fill="none" stroke="#ffa850" stroke-width="1.0"/>
<path d="M414.00 39.40 C414.30 38.87 414.80 38.50 415.40 38.20 C416.00 37.90 416.77 37.65 417.60 37.60 C418.43 37.55 419.63 37.53 420.40 37.90 C421.17 38.27 421.83 38.98 422.20 39.80 C422.57 40.62 422.73 41.87 422.60 42.80 C422.47 43.73 422.07 44.70 421.40 45.40 C420.73 46.10 419.57 46.87 418.60 47.00 C417.63 47.13 416.37 46.77 415.60 46.20 C414.83 45.63 414.33 44.40 414.00 43.60 C413.67 42.80 413.60 42.10 413.60 41.40 C413.60 40.70 413.70 39.93 414.00 39.40Z" fill="none" stroke="#ffa850" stroke-width="1.0"/>
<path d="M394.50 15.50 C395.50 13.75 395.33 13.72 396.00 13.50 C396.67 13.28 396.17 13.53 398.50 14.20 C400.83 14.87 406.08 16.45 410.00 17.50 C413.92 18.55 418.67 18.75 422.00 20.50 C425.33 22.25 428.17 24.42 430.00 28.00 C431.83 31.58 433.33 37.33 433.00 42.00 C432.67 46.67 430.50 52.17 428.00 56.00 C425.50 59.83 421.33 62.83 418.00 65.00 C414.67 67.17 411.33 69.17 408.00 69.00 C404.67 68.83 401.00 66.50 398.00 64.00 C395.00 61.50 391.67 58.00 390.00 54.00 C388.33 50.00 388.00 45.00 388.00 40.00 C388.00 35.00 388.92 28.08 390.00 24.00 C391.08 19.92 393.50 17.25 394.50 15.50Z" fill="none" stroke="#4050ff" stroke-width="1.2"/>
<path d="M396.17 19.17 C397.03 17.65 396.89 17.62 397.47 17.43 C398.04 17.25 397.61 17.46 399.63 18.04 C401.66 18.62 406.21 19.99 409.60 20.90 C412.99 21.81 417.11 21.98 420.00 23.50 C422.89 25.02 425.34 26.89 426.93 30.00 C428.52 33.11 429.82 38.09 429.53 42.13 C429.24 46.18 427.37 50.94 425.20 54.27 C423.03 57.59 419.42 60.19 416.53 62.07 C413.64 63.94 410.76 65.68 407.87 65.53 C404.98 65.39 401.80 63.37 399.20 61.20 C396.60 59.03 393.71 56.00 392.27 52.53 C390.82 49.07 390.53 44.73 390.53 40.40 C390.53 36.07 391.33 30.07 392.27 26.53 C393.21 22.99 395.30 20.68 396.17 19.17Z" fill="none" stroke="#4050ff" stroke-width="1.2"/>
<path d="M397.83 22.83 C398.57 21.55 398.44 21.53 398.93 21.37 C399.42 21.21 399.06 21.39 400.77 21.88 C402.48 22.37 406.33 23.53 409.20 24.30 C412.07 25.07 415.56 25.22 418.00 26.50 C420.44 27.78 422.52 29.37 423.87 32.00 C425.21 34.63 426.31 38.84 426.07 42.27 C425.82 45.69 424.23 49.72 422.40 52.53 C420.57 55.34 417.51 57.54 415.07 59.13 C412.62 60.72 410.18 62.19 407.73 62.07 C405.29 61.94 402.60 60.23 400.40 58.40 C398.20 56.57 395.76 54.00 394.53 51.07 C393.31 48.13 393.07 44.47 393.07 40.80 C393.07 37.13 393.74 32.06 394.53 29.07 C395.33 26.07 397.10 24.12 397.83 22.83Z" fill="none" stroke="#4050ff" stroke-width="1.2"/>
<path d="M399.50 26.50 C400.10 25.45 400.00 25.43 400.40 25.30 C400.80 25.17 400.50 25.32 401.90 25.72 C403.30 26.12 406.45 27.07 408.80 27.70 C411.15 28.33 414.00 28.45 416.00 29.50 C418.00 30.55 419.70 31.85 420.80 34.00 C421.90 36.15 422.80 39.60 422.60 42.40 C422.40 45.20 421.10 48.50 419.60 50.80 C418.10 53.10 415.60 54.90 413.60 56.20 C411.60 57.50 409.60 58.70 407.60 58.60 C405.60 58.50 403.40 57.10 401.60 55.60 C399.80 54.10 397.80 52.00 396.80 49.60 C395.80 47.20 395.60 44.20 395.60 41.20 C395.60 38.20 396.15 34.05 396.80 31.60 C397.45 29.15 398.90 27.55 399.50 26.50Z" fill="none" stroke="#4050ff" stroke-width="1.2"/>
<path d="M401.17 30.17 C401.63 29.35 401.56 29.33 401.87 29.23 C402.18 29.13 401.94 29.25 403.03 29.56 C404.12 29.87 406.57 30.61 408.40 31.10 C410.23 31.59 412.44 31.68 414.00 32.50 C415.56 33.32 416.88 34.33 417.73 36.00 C418.59 37.67 419.29 40.36 419.13 42.53 C418.98 44.71 417.97 47.28 416.80 49.07 C415.63 50.86 413.69 52.26 412.13 53.27 C410.58 54.28 409.02 55.21 407.47 55.13 C405.91 55.06 404.20 53.97 402.80 52.80 C401.40 51.63 399.84 50.00 399.07 48.13 C398.29 46.27 398.13 43.93 398.13 41.60 C398.13 39.27 398.56 36.04 399.07 34.13 C399.57 32.23 400.70 30.98 401.17 30.17Z" fill="none" stroke="#4050ff" stroke-width="1.2"/>
<path d="M402.83 33.83 C403.17 33.25 403.11 33.24 403.33 33.17 C403.56 33.09 403.39 33.18 404.17 33.40 C404.94 33.62 406.69 34.15 408.00 34.50 C409.31 34.85 410.89 34.92 412.00 35.50 C413.11 36.08 414.06 36.81 414.67 38.00 C415.28 39.19 415.78 41.11 415.67 42.67 C415.56 44.22 414.83 46.06 414.00 47.33 C413.17 48.61 411.78 49.61 410.67 50.33 C409.56 51.06 408.44 51.72 407.33 51.67 C406.22 51.61 405.00 50.83 404.00 50.00 C403.00 49.17 401.89 48.00 401.33 46.67 C400.78 45.33 400.67 43.67 400.67 42.00 C400.67 40.33 400.97 38.03 401.33 36.67 C401.69 35.31 402.50 34.42 402.83 33.83Z" fill="none" stroke="#4050ff" stroke-width="1.2"/>
<path d="M404.50 37.50 C404.70 37.15 404.67 37.14 404.80 37.10 C404.93 37.06 404.83 37.11 405.30 37.24 C405.77 37.37 406.82 37.69 407.60 37.90 C408.38 38.11 409.33 38.15 410.00 38.50 C410.67 38.85 411.23 39.28 411.60 40.00 C411.97 40.72 412.27 41.87 412.20 42.80 C412.13 43.73 411.70 44.83 411.20 45.60 C410.70 46.37 409.87 46.97 409.20 47.40 C408.53 47.83 407.87 48.23 407.20 48.20 C406.53 48.17 405.80 47.70 405.20 47.20 C404.60 46.70 403.93 46.00 403.60 45.20 C403.27 44.40 403.20 43.40 403.20 42.40 C403.20 41.40 403.38 40.02 403.60 39.20 C403.82 38.38 404.30 37.85 404.50 37.50Z" fill="none" stroke="#4050ff" stroke-width="1.2"/>
<line x1="407.2" y1="44" x2="407.2" y2="91" stroke="#0000ff" stroke-width="2.4" stroke-dasharray="4 3.5"/>
<line x1="419.6" y1="51" x2="419.6" y2="91" stroke="#ff7a30" stroke-width="2.2" stroke-dasharray="4 3.5"/>
<line x1="441.8" y1="54" x2="441.8" y2="91" stroke="#40c040" stroke-width="2.0" stroke-dasharray="3 3.5"/>
<line x1="461.3" y1="60" x2="461.3" y2="91" stroke="#ff0000" stroke-width="2.2" stroke-dasharray="4 3"/>
</g>
<text x="478" y="26.8" font-size="13.5" font-family='"Liberation Sans", sans-serif' font-weight="bold" fill="#111" text-anchor="start">c</text>
<line x1="493.5" y1="22.6" x2="495.6" y2="22.6" stroke="#444" stroke-width="1"/>
<line x1="493.5" y1="42.1" x2="495.6" y2="42.1" stroke="#444" stroke-width="1"/>
<line x1="493.5" y1="61.5" x2="495.6" y2="61.5" stroke="#444" stroke-width="1"/>
<line x1="493.5" y1="81" x2="495.6" y2="81" stroke="#444" stroke-width="1"/>
<text x="507" y="56.5" font-size="10" font-family='"Liberation Sans", sans-serif' font-weight="normal" fill="#111" text-anchor="middle" transform="rotate(-90 507 56.5)">124.2</text>
<line x1="394.3" y1="90.5" x2="394.3" y2="92.8" stroke="#444" stroke-width="1"/>
<line x1="426.5" y1="90.5" x2="426.5" y2="92.8" stroke="#444" stroke-width="1"/>
<line x1="458.4" y1="90.5" x2="458.4" y2="92.8" stroke="#444" stroke-width="1"/>
<line x1="490" y1="90.5" x2="490" y2="92.8" stroke="#444" stroke-width="1"/>
<text x="396.8" y="101.2" font-size="10" font-family='"Liberation Sans", sans-serif' font-weight="normal" fill="#111" text-anchor="middle">8.36</text>
<text x="460.5" y="101.2" font-size="10" font-family='"Liberation Sans", sans-serif' font-weight="normal" fill="#111" text-anchor="middle">8.32</text>
</svg></body></html>
